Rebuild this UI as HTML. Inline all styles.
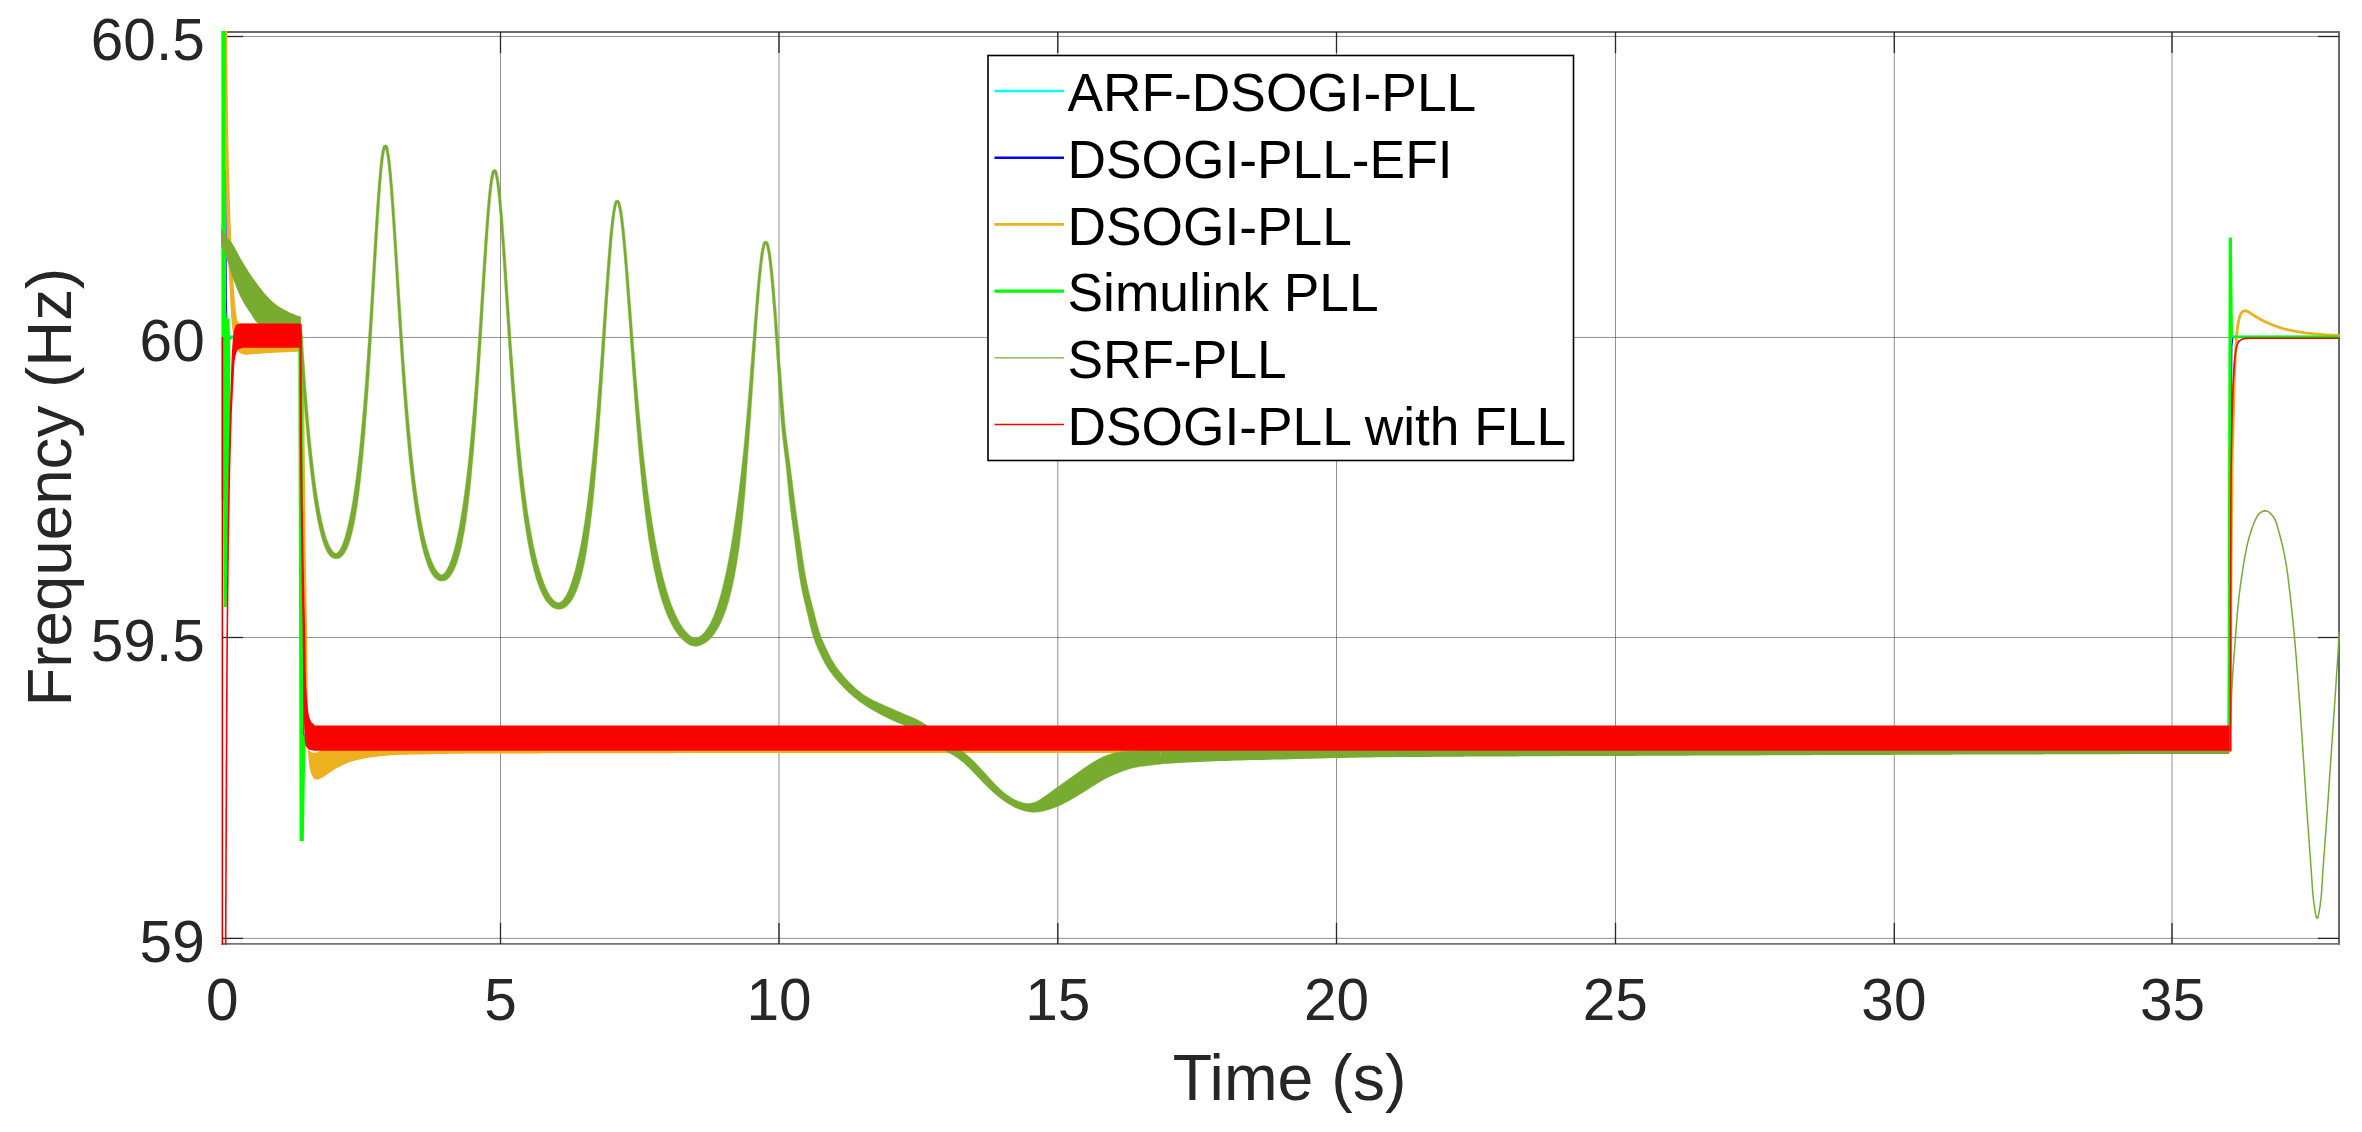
<!DOCTYPE html>
<html lang="en"><head><meta charset="utf-8"><title>Frequency (Hz) vs Time (s)</title>
<style>
html,body{margin:0;padding:0;background:#fff}
body{width:2362px;height:1132px;overflow:hidden}
svg{display:block}
text{font-family:"Liberation Sans",Arial,Helvetica,sans-serif}
.tk{font-size:58.5px;fill:#262626}
.lb{font-size:64.4px;fill:#262626}
.lg{font-size:53.3px;fill:#000}
</style></head><body>
<svg width="2362" height="1132" viewBox="0 0 2362 1132">
<defs><clipPath id="ax"><rect x="221.0" y="31.0" width="2119.0" height="914.0"/></clipPath></defs>
<rect width="2362" height="1132" fill="#fff"/>
<g stroke="#262626" stroke-opacity="0.5" stroke-width="1" fill="none"><line x1="500.5" y1="32.0" x2="500.5" y2="944.0"/><line x1="779" y1="32.0" x2="779" y2="944.0"/><line x1="1057.8" y1="32.0" x2="1057.8" y2="944.0"/><line x1="1336.5" y1="32.0" x2="1336.5" y2="944.0"/><line x1="1615.5" y1="32.0" x2="1615.5" y2="944.0"/><line x1="1894.3" y1="32.0" x2="1894.3" y2="944.0"/><line x1="2172" y1="32.0" x2="2172" y2="944.0"/><line x1="222.0" y1="938.4" x2="2339.0" y2="938.4"/><line x1="222.0" y1="637.5" x2="2339.0" y2="637.5"/><line x1="222.0" y1="337.45" x2="2339.0" y2="337.45"/><line x1="222.0" y1="36.5" x2="2339.0" y2="36.5"/></g>
<g fill="none" stroke="#6a6a6a"><path d="M221.7 32 H2340" stroke-width="2"/><path d="M2339 32 V944.8" stroke-width="2"/><path d="M221.7 943.9 H2340" stroke-width="1.8" stroke="#747474"/><path d="M222.4 31 V944.8" stroke-width="1.3"/></g>
<g stroke="#262626" stroke-width="1.3" fill="none"><line x1="500.5" y1="944.0" x2="500.5" y2="923.0"/><line x1="500.5" y1="32.0" x2="500.5" y2="53.0"/><line x1="779" y1="944.0" x2="779" y2="923.0"/><line x1="779" y1="32.0" x2="779" y2="53.0"/><line x1="1057.8" y1="944.0" x2="1057.8" y2="923.0"/><line x1="1057.8" y1="32.0" x2="1057.8" y2="53.0"/><line x1="1336.5" y1="944.0" x2="1336.5" y2="923.0"/><line x1="1336.5" y1="32.0" x2="1336.5" y2="53.0"/><line x1="1615.5" y1="944.0" x2="1615.5" y2="923.0"/><line x1="1615.5" y1="32.0" x2="1615.5" y2="53.0"/><line x1="1894.3" y1="944.0" x2="1894.3" y2="923.0"/><line x1="1894.3" y1="32.0" x2="1894.3" y2="53.0"/><line x1="2172" y1="944.0" x2="2172" y2="923.0"/><line x1="2172" y1="32.0" x2="2172" y2="53.0"/><line x1="222.0" y1="938.4" x2="243.0" y2="938.4"/><line x1="2339.0" y1="938.4" x2="2318.0" y2="938.4"/><line x1="222.0" y1="637.5" x2="243.0" y2="637.5"/><line x1="2339.0" y1="637.5" x2="2318.0" y2="637.5"/><line x1="222.0" y1="337.45" x2="243.0" y2="337.45"/><line x1="2339.0" y1="337.45" x2="2318.0" y2="337.45"/><line x1="222.0" y1="36.5" x2="243.0" y2="36.5"/><line x1="2339.0" y1="36.5" x2="2318.0" y2="36.5"/></g>
<g clip-path="url(#ax)">
<path d="M223 32 L224 330 L228 337 L301 337 L303 738 L2229 738 L2231 337 L2339 337" fill="none" stroke="#00ffff" stroke-width="2.5"/>
<path d="M225.9 170 L226.3 300 L227.8 350 L229.6 340 L232 337 L300 337 L300.7 420 L302.4 560 L303.4 735 L2229 738 L2230.9 500 L2231.9 346 L2233 337 L2339 337" fill="none" stroke="#0000ff" stroke-width="1" stroke-linejoin="round"/>
<path d="M227.2 20 L227.2 23.1 L227.2 26.1 L227.2 29.2 L227.2 32.3 L227.3 35.4 L227.3 38.4 L227.3 41.5 L227.3 44.6 L227.3 47.7 L227.3 50.7 L227.4 53.8 L227.4 56.9 L227.4 60 L227.4 63 L227.5 66.1 L227.5 69.2 L227.5 72.2 L227.6 75.3 L227.6 78.4 L227.6 81.5 L227.6 84.5 L227.7 87.6 L227.7 90.7 L227.7 93.8 L227.8 96.8 L227.8 99.9 L227.8 103 L227.9 106.1 L227.9 109.1 L227.9 112.2 L228 115.3 L228 118.3 L228.1 121.4 L228.1 124.5 L228.2 127.6 L228.2 130.6 L228.3 133.7 L228.3 136.8 L228.4 139.9 L228.4 142.9 L228.5 146 L228.6 149.1 L228.6 152.1 L228.7 155.2 L228.7 158.3 L228.8 161.4 L228.9 164.4 L228.9 167.5 L229 170.6 L229.1 173.7 L229.2 176.7 L229.2 179.8 L229.3 182.9 L229.4 185.9 L229.5 189 L229.6 192.1 L229.7 195.2 L229.8 198.2 L229.9 201.3 L230 204.4 L230.1 207.5 L230.2 210.5 L230.3 213.6 L230.4 216.7 L230.5 219.7 L230.6 222.8 L230.7 225.9 L230.9 229 L231 232 L231.1 235.1 L231.2 238.2 L231.4 241.2 L231.5 244.3 L231.6 247.4 L231.8 250.4 L231.9 253.5 L232.1 256.6 L232.2 259.7 L232.4 262.7 L232.5 265.8 L232.7 268.9 L232.9 271.9 L233 275 L233.2 278.1 L233.4 281.1 L233.6 284.2 L233.8 287.3 L234 290.3 L234.2 293.4 L234.5 296.5 L234.7 299.5 L235 302.6 L235.3 305.7 L235.6 308.7 L236 311.8 L236.4 315.2 L236.9 318.9 L237.7 321.7 L239.1 322.8 L242.3 323.3 L245.7 323.5 L248.7 323.5 L251.8 323.5 L254.8 323.5 L257.9 323.5 L261 323.5 L264 323.5 L267.1 323.5 L270.2 323.5 L273.2 323.5 L276.3 323.5 L279.4 323.5 L282.5 323.5 L285.5 323.5 L288.6 323.5 L291.7 323.5 L294.8 323.5 L297.9 323.5 L301 323.5 L301 351.6 L298.5 351.7 L296 351.8 L293.5 351.9 L291 352 L288.5 352.1 L286.1 352.2 L283.6 352.3 L281.1 352.4 L278.6 352.5 L276.1 352.7 L273.6 352.8 L271.1 352.9 L268.6 353.1 L266.2 353.2 L263.7 353.4 L261.2 353.6 L258.7 353.7 L256.2 353.9 L253.7 354.1 L251.2 354.3 L248.7 354.6 L246.3 354.7 L243.8 354.5 L241.4 353.7 L239.3 352.4 L237.6 350.4 L236.5 348.4 L235.6 346.1 L234.8 343.6 L234.2 341.1 L233.8 338.7 L233.3 336.2 L233 333.8 L232.6 331.3 L232.3 328.8 L232.1 326.3 L231.8 323.8 L231.6 321.3 L231.4 318.9 L231.2 316.4 L231.1 313.9 L230.9 311.4 L230.8 308.9 L230.6 306.4 L230.5 303.9 L230.4 301.5 L230.2 299 L230.1 296.5 L230 294 L229.9 291.5 L229.7 289 L229.6 286.5 L229.5 284 L229.3 281.5 L229.2 279.1 L229.1 276.6 L228.9 274.1 L228.8 271.6 L228.6 269.1 L228.5 266.6 L228.4 264.1 L228.2 261.6 L228.1 259.1 L228 256.7 L227.8 254.2 L227.7 251.7 L227.6 249.2 L227.5 246.7 L227.4 244.2 L227.3 241.7 L227.2 239.2 L227.1 236.7 L227 234.3 L226.9 231.8 L226.9 229.3 L226.8 226.8 L226.8 224.3 L226.7 221.8 L226.7 219.3 L226.6 216.8 L226.6 214.3 L226.5 211.8 L226.5 209.3 L226.5 206.9 L226.4 204.4 L226.4 201.9 L226.4 199.4 L226.3 196.9 L226.3 194.4 L226.3 191.9 L226.2 189.4 L226.2 186.9 L226.2 184.4 L226.1 181.9 L226.1 179.5 L226.1 177 L226.1 174.5 L226 172 L226 169.5 L226 167 L225.9 164.5 L225.9 162 L225.9 159.5 L225.9 157 L225.8 154.5 L225.8 152 L225.8 149.6 L225.7 147.1 L225.7 144.6 L225.7 142.1 L225.7 139.6 L225.6 137.1 L225.6 134.6 L225.6 132.1 L225.6 129.6 L225.6 127.1 L225.5 124.6 L225.5 122.1 L225.5 119.7 L225.5 117.2 L225.4 114.7 L225.4 112.2 L225.4 109.7 L225.4 107.2 L225.3 104.7 L225.3 102.2 L225.3 99.7 L225.3 97.2 L225.3 94.7 L225.2 92.3 L225.2 89.8 L225.2 87.3 L225.2 84.8 L225.1 82.3 L225.1 79.8 L225.1 77.3 L225.1 74.8 L225 72.3 L225 69.8 L225 67.3 L225 64.8 L225 62.4 L224.9 59.9 L224.9 57.4 L224.9 54.9 L224.9 52.4 L224.8 49.9 L224.8 47.4 L224.8 44.9 L224.8 42.4 L224.8 39.9 L224.7 37.4 L224.7 34.9 L224.7 32.5 L224.7 30 L224.7 27.5 L224.6 25 L224.6 22.5 L224.6 20 Z" fill="#edb120"/>
<path d="M302.9 368 L303.2 420 L304.6 560 L306 640 L306.6 700 L307.3 746" fill="none" stroke="#edb120" stroke-width="2.4" stroke-linejoin="round"/>
<path d="M306.2 740 L307.2 744.8 L307.8 749.7 L308.2 754.6 L308.6 759.5 L309.2 764.4 L310 769.4 L311.3 774.2 L313.7 778.5 L317.8 779.7 L322.5 777.6 L326.5 774.7 L330.5 771.9 L334.7 769.3 L339 766.9 L343.4 764.7 L347.9 762.8 L352.6 761.3 L357.4 760.1 L362.2 759 L367 758.1 L371.9 757.3 L376.7 756.7 L381.6 756.1 L386.5 755.7 L391.4 755.3 L396.3 755 L401.2 754.8 L406.1 754.7 L411.1 754.6 L416 754.4 L420.9 754.4 L425.8 754.3 L430.7 754.2 L435.6 754.1 L440.5 754 L445.5 753.9 L450.4 753.8 L455.3 753.8 L460.2 753.7 L465.1 753.6 L470 753.6 L474.9 753.5 L479.9 753.5 L484.8 753.5 L489.7 753.5 L494.6 753.5 L499.5 753.4 L504.4 753.4 L509.3 753.4 L514.3 753.4 L519.2 753.4 L524.1 753.4 L529 753.4 L533.9 753.4 L538.8 753.4 L543.7 753.3 L548.7 753.3 L553.6 753.3 L558.5 753.3 L563.4 753.3 L568.3 753.3 L573.2 753.3 L578.2 753.3 L583.1 753.3 L588 753.3 L592.9 753.3 L597.8 753.2 L602.7 753.2 L607.6 753.2 L612.6 753.2 L617.5 753.2 L622.4 753.2 L627.3 753.2 L632.2 753.2 L637.1 753.2 L642 753.2 L647 753.2 L651.9 753.2 L656.8 753.2 L661.7 753.2 L666.6 753.2 L671.5 753.2 L676.4 753.1 L681.4 753.1 L686.3 753.1 L691.2 753.1 L696.1 753.1 L701 753.1 L705.9 753.1 L710.8 753.1 L715.8 753.1 L720.7 753.1 L725.6 753.1 L730.5 753.1 L735.4 753.1 L740.3 753.1 L745.3 753.1 L750.2 753.1 L755.1 753.1 L760 753.1 L764.9 753.1 L769.8 753.1 L774.7 753.1 L779.7 753.1 L784.6 753.1 L789.5 753.1 L794.4 753.1 L799.3 753.1 L804.2 753.1 L809.1 753.1 L814.1 753 L819 753 L823.9 753 L828.8 753 L833.7 753 L838.6 753 L843.5 753 L848.5 753 L853.4 753 L858.3 753 L863.2 753 L868.1 753 L873 753 L878 753 L882.9 753 L887.8 753 L892.7 753 L897.6 753 L902.5 753 L907.4 753 L912.4 753 L917.3 753 L922.2 753 L927.1 753 L932 753 L936.9 753 L941.8 753 L946.8 753 L951.7 753 L956.6 753 L961.5 753 L966.4 753 L971.3 753 L976.2 753 L981.2 752.9 L986.1 752.9 L991 752.9 L995.9 752.9 L1000.8 752.9 L1005.7 752.9 L1010.6 752.9 L1015.6 752.9 L1020.5 752.9 L1025.4 752.9 L1030.3 752.9 L1035.2 752.9 L1040.1 752.9 L1045.1 752.9 L1050 752.9 L1054.9 752.9 L1059.8 752.9 L1064.7 752.9 L1069.6 752.9 L1074.5 752.9 L1079.5 752.9 L1084.4 752.9 L1089.3 752.9 L1094.2 752.9 L1099.1 752.9 L1104 752.9 L1108.9 752.9 L1113.9 752.9 L1118.8 752.9 L1123.7 752.9 L1128.6 752.9 L1133.5 752.9 L1138.4 752.9 L1143.3 752.9 L1148.3 752.9 L1153.2 752.8 L1158.1 752.8 L1163 752.8 L1167.9 752.8 L1172.8 752.8 L1177.7 752.8 L1182.7 752.8 L1187.6 752.8 L1192.5 752.8 L1197.4 752.8 L1202.3 752.8 L1207.2 752.8 L1212.2 752.8 L1217.1 752.8 L1222 752.8 L1226.9 752.8 L1231.8 752.8 L1236.7 752.8 L1241.6 752.8 L1246.6 752.8 L1251.5 752.8 L1256.4 752.8 L1261.3 752.8 L1266.2 752.8 L1271.1 752.8 L1276 752.8 L1281 752.8 L1285.9 752.8 L1290.8 752.8 L1295.7 752.8 L1300.6 752.8 L1305.5 752.8 L1310.4 752.8 L1315.4 752.8 L1320.3 752.8 L1325.2 752.8 L1330.1 752.8 L1335 752.8 L1339.9 752.7 L1344.8 752.7 L1349.8 752.7 L1354.7 752.7 L1359.6 752.7 L1364.5 752.7 L1369.4 752.7 L1374.3 752.7 L1379.3 752.7 L1384.2 752.7 L1389.1 752.7 L1394 752.7 L1398.9 752.7 L1403.8 752.7 L1408.7 752.7 L1413.7 752.7 L1418.6 752.7 L1423.5 752.7 L1428.4 752.7 L1433.3 752.7 L1438.2 752.7 L1443.1 752.7 L1448.1 752.7 L1453 752.7 L1457.9 752.7 L1462.8 752.7 L1467.7 752.7 L1472.6 752.7 L1477.5 752.7 L1482.5 752.7 L1487.4 752.7 L1492.3 752.7 L1497.2 752.7 L1502.1 752.7 L1507 752.7 L1512 752.7 L1516.9 752.7 L1521.8 752.7 L1526.7 752.7 L1531.6 752.7 L1536.5 752.7 L1541.4 752.7 L1546.4 752.7 L1551.3 752.7 L1556.2 752.6 L1561.1 752.6 L1566 752.6 L1570.9 752.6 L1575.8 752.6 L1580.8 752.6 L1585.7 752.6 L1590.6 752.6 L1595.5 752.6 L1600.4 752.6 L1605.3 752.6 L1610.2 752.6 L1615.2 752.6 L1620.1 752.6 L1625 752.6 L1629.9 752.6 L1634.8 752.6 L1639.7 752.6 L1644.6 752.6 L1649.6 752.6 L1654.5 752.6 L1659.4 752.6 L1664.3 752.6 L1669.2 752.6 L1674.1 752.6 L1679.1 752.6 L1684 752.6 L1688.9 752.6 L1693.8 752.6 L1698.7 752.6 L1703.6 752.6 L1708.5 752.6 L1713.5 752.6 L1718.4 752.6 L1723.3 752.6 L1728.2 752.6 L1733.1 752.6 L1738 752.6 L1742.9 752.6 L1747.9 752.6 L1752.8 752.6 L1757.7 752.6 L1762.6 752.6 L1767.5 752.6 L1772.4 752.6 L1777.3 752.6 L1782.3 752.6 L1787.2 752.6 L1792.1 752.6 L1797 752.6 L1801.9 752.6 L1806.8 752.6 L1811.7 752.6 L1816.7 752.6 L1821.6 752.6 L1826.5 752.6 L1831.4 752.6 L1836.3 752.6 L1841.2 752.6 L1846.2 752.6 L1851.1 752.6 L1856 752.5 L1860.9 752.5 L1865.8 752.5 L1870.7 752.5 L1875.6 752.5 L1880.6 752.5 L1885.5 752.5 L1890.4 752.5 L1895.3 752.5 L1900.2 752.5 L1905.1 752.5 L1910 752.5 L1915 752.5 L1919.9 752.5 L1924.8 752.5 L1929.7 752.5 L1934.6 752.5 L1939.5 752.5 L1944.4 752.5 L1949.4 752.5 L1954.3 752.5 L1959.2 752.5 L1964.1 752.5 L1969 752.5 L1973.9 752.5 L1978.8 752.5 L1983.8 752.5 L1988.7 752.5 L1993.6 752.5 L1998.5 752.5 L2003.4 752.5 L2008.3 752.5 L2013.3 752.5 L2018.2 752.5 L2023.1 752.5 L2028 752.5 L2032.9 752.5 L2037.8 752.5 L2042.7 752.5 L2047.7 752.5 L2052.6 752.5 L2057.5 752.5 L2062.4 752.5 L2067.3 752.5 L2072.2 752.5 L2077.1 752.5 L2082.1 752.5 L2087 752.5 L2091.9 752.5 L2096.8 752.5 L2101.7 752.5 L2106.6 752.5 L2111.5 752.5 L2116.5 752.5 L2121.4 752.5 L2126.3 752.5 L2131.2 752.5 L2136.1 752.5 L2141 752.5 L2145.9 752.5 L2150.9 752.5 L2155.8 752.5 L2160.7 752.5 L2165.6 752.5 L2170.5 752.5 L2175.4 752.5 L2180.4 752.5 L2185.3 752.5 L2190.2 752.5 L2195.1 752.5 L2200 752.5 L2204.9 752.5 L2209.8 752.5 L2214.8 752.5 L2219.7 752.5 L2224.6 752.5 L2229.5 752.5 L2229.5 745 L330 745 L322 749 L319 751.5 L316 752.8 L313 752.8 L310 751.5 L307 748 L306 740 Z" fill="#edb120"/>
<path d="M2230.3 752 L2230.3 749.2 L2230.3 746.5 L2230.3 743.7 L2230.3 741 L2230.3 738.2 L2230.3 735.5 L2230.3 732.7 L2230.3 729.9 L2230.4 727.2 L2230.4 724.4 L2230.4 721.7 L2230.4 718.9 L2230.4 716.1 L2230.4 713.4 L2230.4 710.6 L2230.4 707.9 L2230.4 705.1 L2230.4 702.4 L2230.4 699.6 L2230.4 696.8 L2230.5 694.1 L2230.5 691.3 L2230.5 688.6 L2230.5 685.8 L2230.5 683 L2230.5 680.3 L2230.5 677.5 L2230.5 674.8 L2230.5 672 L2230.6 669.3 L2230.6 666.5 L2230.6 663.7 L2230.6 661 L2230.6 658.2 L2230.6 655.5 L2230.6 652.7 L2230.6 649.9 L2230.7 647.2 L2230.7 644.4 L2230.7 641.7 L2230.7 638.9 L2230.7 636.2 L2230.7 633.4 L2230.7 630.6 L2230.8 627.9 L2230.8 625.1 L2230.8 622.4 L2230.8 619.6 L2230.8 616.8 L2230.8 614.1 L2230.8 611.3 L2230.9 608.6 L2230.9 605.8 L2230.9 603.1 L2230.9 600.3 L2230.9 597.5 L2230.9 594.8 L2230.9 592 L2231 589.3 L2231 586.5 L2231 583.8 L2231 581 L2231 578.2 L2231 575.5 L2231.1 572.7 L2231.1 570 L2231.1 567.2 L2231.1 564.4 L2231.1 561.7 L2231.2 558.9 L2231.2 556.2 L2231.2 553.4 L2231.2 550.7 L2231.2 547.9 L2231.3 545.1 L2231.3 542.4 L2231.3 539.6 L2231.3 536.9 L2231.4 534.1 L2231.4 531.3 L2231.4 528.6 L2231.4 525.8 L2231.5 523.1 L2231.5 520.3 L2231.5 517.6 L2231.5 514.8 L2231.6 512 L2231.6 509.3 L2231.6 506.5 L2231.7 503.8 L2231.7 501 L2231.7 498.3 L2231.8 495.5 L2231.8 492.7 L2231.8 490 L2231.9 487.2 L2231.9 484.5 L2231.9 481.7 L2232 478.9 L2232 476.2 L2232.1 473.4 L2232.1 470.7 L2232.2 467.9 L2232.2 465.2 L2232.3 462.4 L2232.3 459.6 L2232.4 456.9 L2232.4 454.1 L2232.5 451.4 L2232.5 448.6 L2232.6 445.9 L2232.7 443.1 L2232.7 440.3 L2232.8 437.6 L2232.9 434.8 L2232.9 432.1 L2233 429.3 L2233 426.6 L2233.1 423.8 L2233.2 421 L2233.2 418.3 L2233.3 415.5 L2233.4 412.8 L2233.5 410 L2233.5 407.2 L2233.6 404.5 L2233.7 401.7 L2233.8 399 L2233.8 396.2 L2233.9 393.5 L2234 390.7 L2234.1 387.9 L2234.2 385.2 L2234.3 382.4 L2234.4 379.7 L2234.5 376.9 L2234.6 374.2 L2234.7 371.4 L2234.8 368.7 L2234.9 365.9 L2235.1 363.1 L2235.2 360.4 L2235.3 357.6 L2235.4 354.9 L2235.6 352.1 L2235.7 349.4 L2235.9 346.6 L2236.1 343.8 L2236.3 341.1 L2236.5 338.3 L2236.7 335.6 L2237 332.9 L2237.2 330.1 L2237.6 327.3 L2237.9 324.6 L2238.4 321.8 L2239 319.1 L2239.6 316.5 L2240.7 313.8 L2242.3 311.8 L2244.9 310.7 L2247.5 311.4 L2249.9 312.8 L2252.2 314.3 L2254.5 315.8 L2256.9 317.2 L2259.3 318.6 L2261.7 319.9 L2264.2 321.2 L2266.7 322.4 L2269.2 323.5 L2271.7 324.6 L2274.3 325.6 L2276.9 326.5 L2279.5 327.4 L2282.1 328.3 L2284.8 329 L2287.5 329.7 L2290.2 330.2 L2292.9 330.8 L2295.6 331.3 L2298.3 331.8 L2301 332.2 L2303.8 332.7 L2306.5 333.1 L2309.2 333.4 L2312 333.7 L2314.7 334 L2317.4 334.2 L2320.2 334.4 L2322.9 334.6 L2325.7 334.8 L2328.5 334.9 L2331.2 335.1 L2334 335.2 L2336.7 335.3 L2339.5 335.4 L2342.2 335.5 L2345 335.6" fill="none" stroke="#edb120" stroke-width="2.8" stroke-linejoin="round"/>
<path d="M221.6 20 L225.8 20 L225.8 300 L226.4 318 L229.3 318.6 L230.2 345 L230.2 400 L229 470 L227.6 560 L226.7 607 L223.7 607 L223.2 500 L221.6 500 Z" fill="#00ff00"/>
<path d="M228 337 L300.3 337" fill="none" stroke="#00ff00" stroke-width="3"/>
<path d="M300.4 336 L301.7 841 L303.4 738 L320 738" fill="none" stroke="#00ff00" stroke-width="4.2" stroke-linejoin="miter" stroke-miterlimit="80"/>
<path d="M2200 738 L2229 738 L2230.3 237.5 L2231.4 337" fill="none" stroke="#00ff00" stroke-width="3.2" stroke-linejoin="miter" stroke-miterlimit="80"/>
<path d="M2230.5 336.6 L2345 336.6" fill="none" stroke="#00ff00" stroke-width="2.2"/>
<path d="M221 228 L221.7 229.4 L222.4 230.7 L223.3 232 L224.2 233.3 L225.1 234.5 L226.1 235.7 L227.1 236.9 L228.1 238.1 L229.1 239.3 L230.1 240.6 L231 241.8 L231.9 243 L232.8 244.3 L233.6 245.6 L234.4 246.9 L235.1 248.3 L235.9 249.7 L236.6 251 L237.4 252.4 L238.1 253.8 L238.8 255.1 L239.5 256.5 L240.3 257.9 L241.1 259.2 L241.8 260.6 L242.6 261.9 L243.4 263.2 L244.2 264.6 L245 265.9 L245.8 267.2 L246.6 268.5 L247.5 269.8 L248.3 271.2 L249.1 272.5 L250 273.7 L250.9 275 L251.7 276.3 L252.6 277.6 L253.5 278.9 L254.4 280.1 L255.3 281.4 L256.2 282.6 L257.1 283.9 L258.1 285.1 L259 286.4 L260 287.6 L260.9 288.8 L261.9 290 L262.8 291.3 L263.8 292.5 L264.8 293.7 L265.8 294.8 L266.9 296 L267.9 297.1 L269 298.2 L270.1 299.3 L271.2 300.4 L272.4 301.5 L273.5 302.5 L274.7 303.5 L275.9 304.4 L277.2 305.4 L278.4 306.2 L279.7 307.1 L281.1 307.9 L282.4 308.6 L283.8 309.4 L285.2 310.1 L286.5 310.8 L287.9 311.5 L289.3 312.2 L290.7 312.9 L292.1 313.5 L293.6 314.1 L295 314.7 L296.5 315.2 L297.9 315.7 L299.4 316.2 L300.9 316.6 L300.9 331 L299.2 331 L297.5 331 L295.8 330.9 L294.1 330.8 L292.4 330.7 L290.7 330.6 L289.1 330.5 L287.4 330.4 L285.8 330.2 L284.1 330 L282.5 329.9 L280.9 329.7 L279.3 329.5 L277.7 329.2 L276.1 329 L274.5 328.7 L272.9 328.5 L271.3 328.2 L269.7 328 L268.1 327.6 L266.5 327.2 L264.9 326.6 L263.2 326 L261.7 325.3 L260.2 324.5 L258.8 323.7 L257.5 322.9 L256.4 321.9 L255.3 320.8 L254.3 319.5 L253.4 318 L252.5 316.6 L251.6 315.1 L250.7 313.6 L249.8 312.2 L248.9 310.9 L247.9 309.5 L247 308.1 L246.1 306.7 L245.2 305.4 L244.3 303.9 L243.5 302.5 L242.7 301.1 L241.9 299.7 L241.2 298.2 L240.4 296.7 L239.7 295.3 L239.1 293.8 L238.4 292.3 L237.8 290.7 L237.1 289.2 L236.5 287.7 L235.9 286.1 L235.3 284.6 L234.7 283 L234.1 281.5 L233.5 279.9 L233 278.4 L232.4 276.9 L231.8 275.3 L231.3 273.7 L230.8 272.2 L230.3 270.6 L229.8 269 L229.3 267.4 L228.9 265.8 L228.4 264.2 L227.9 262.7 L227.4 261.1 L226.9 259.5 L226.4 258 L225.9 256.4 L225.3 254.9 L224.7 253.3 L224.1 251.8 L223.4 250.3 L222.6 248.9 L221.8 247.4 L221 246 Z" fill="#77ac30"/>
<path d="M298.9 325.2 L299 326.6 L299.1 327.9 L299.2 329.3 L299.2 330.6 L299.3 332 L299.4 333.3 L299.5 334.7 L299.6 336 L299.7 337.4 L299.8 338.7 L299.8 340.1 L299.9 341.4 L300 342.8 L300.1 344.2 L300.2 345.5 L300.3 346.9 L300.4 348.2 L300.4 349.6 L300.5 350.9 L300.6 352.3 L300.7 353.6 L300.8 355 L300.9 356.3 L301 357.7 L301.1 359 L301.1 360.4 L301.2 361.7 L301.3 363.1 L301.4 364.5 L301.5 365.8 L301.6 367.2 L301.7 368.5 L301.8 369.9 L301.9 371.2 L302 372.6 L302.1 373.9 L302.1 375.3 L302.2 376.6 L302.3 378 L302.4 379.3 L302.5 380.7 L302.6 382 L302.7 383.4 L302.8 384.8 L302.9 386.1 L303 387.5 L303.1 388.8 L303.2 390.2 L303.3 391.5 L303.4 392.9 L303.5 394.2 L303.6 395.6 L303.7 396.9 L303.8 398.3 L303.9 399.6 L304 401 L304.1 402.3 L304.2 403.7 L304.3 405 L304.4 406.4 L304.5 407.7 L304.7 409.1 L304.8 410.5 L304.9 411.8 L305 413.2 L305.1 414.5 L305.2 415.9 L305.3 417.2 L305.4 418.6 L305.5 419.9 L305.6 421.3 L305.8 422.6 L305.9 424 L306 425.3 L306.1 426.7 L306.2 428 L306.3 429.4 L306.4 430.7 L306.6 432.1 L306.7 433.4 L306.8 434.8 L306.9 436.1 L307 437.5 L307.2 438.8 L307.3 440.2 L307.4 441.6 L307.5 442.9 L307.7 444.3 L307.8 445.6 L307.9 447 L308.1 448.3 L308.2 449.7 L308.3 451 L308.4 452.4 L308.6 453.7 L308.7 455.1 L308.9 456.4 L309 457.8 L309.1 459.1 L309.3 460.5 L309.4 461.8 L309.6 463.2 L309.7 464.5 L309.8 465.9 L310 467.2 L310.1 468.6 L310.3 469.9 L310.4 471.3 L310.6 472.6 L310.8 474 L310.9 475.3 L311.1 476.7 L311.2 478 L311.4 479.4 L311.6 480.7 L311.7 482.1 L311.9 483.4 L312.1 484.8 L312.2 486.1 L312.4 487.4 L312.6 488.8 L312.8 490.1 L312.9 491.5 L313.1 492.8 L313.3 494.2 L313.5 495.5 L313.7 496.9 L313.9 498.2 L314.1 499.6 L314.3 500.9 L314.5 502.3 L314.7 503.6 L314.9 505 L315.1 506.3 L315.3 507.6 L315.6 509 L315.8 510.3 L316 511.7 L316.2 513 L316.5 514.4 L316.7 515.7 L317 517 L317.2 518.4 L317.5 519.7 L317.7 521.1 L318 522.4 L318.3 523.7 L318.6 525.1 L318.9 526.4 L319.1 527.7 L319.5 529.1 L319.8 530.4 L320.1 531.7 L320.4 533.1 L320.8 534.4 L321.1 535.7 L321.5 537.1 L321.9 538.4 L322.3 539.7 L322.7 541 L323.1 542.4 L323.5 543.7 L324 545 L324.5 546.3 L325 547.6 L325.6 548.9 L326.2 550.2 L326.9 551.6 L327.6 552.8 L328.5 554.1 L329.4 555.4 L330.7 556.6 L332.2 557.7 L334.1 558.5 L336 558.8 L338.2 558.5 L340.2 557.7 L341.7 556.6 L342.9 555.4 L343.9 554.1 L344.8 552.8 L345.5 551.5 L346.2 550.2 L346.9 548.9 L347.5 547.6 L348 546.3 L348.5 545 L349 543.6 L349.4 542.3 L349.9 541 L350.3 539.6 L350.7 538.3 L351 537 L351.4 535.6 L351.8 534.3 L352.1 533 L352.4 531.6 L352.7 530.3 L353 528.9 L353.3 527.6 L353.6 526.3 L353.9 524.9 L354.2 523.6 L354.4 522.2 L354.7 520.9 L354.9 519.5 L355.2 518.2 L355.4 516.9 L355.7 515.5 L355.9 514.2 L356.1 512.8 L356.3 511.5 L356.5 510.1 L356.8 508.8 L357 507.4 L357.2 506.1 L357.4 504.7 L357.6 503.4 L357.7 502 L357.9 500.7 L358.1 499.3 L358.3 498 L358.5 496.6 L358.7 495.3 L358.8 493.9 L359 492.6 L359.2 491.2 L359.3 489.9 L359.5 488.5 L359.7 487.2 L359.8 485.8 L360 484.5 L360.1 483.1 L360.3 481.8 L360.5 480.4 L360.6 479.1 L360.7 477.7 L360.9 476.4 L361 475 L361.2 473.7 L361.3 472.3 L361.5 471 L361.6 469.6 L361.7 468.3 L361.9 466.9 L362 465.6 L362.1 464.2 L362.3 462.9 L362.4 461.5 L362.5 460.2 L362.7 458.8 L362.8 457.5 L362.9 456.1 L363.1 454.7 L363.2 453.4 L363.3 452 L363.4 450.7 L363.6 449.3 L363.7 448 L363.8 446.6 L363.9 445.3 L364 443.9 L364.2 442.6 L364.3 441.2 L364.4 439.9 L364.5 438.5 L364.6 437.2 L364.7 435.8 L364.9 434.5 L365 433.1 L365.1 431.8 L365.2 430.4 L365.3 429.1 L365.4 427.7 L365.5 426.3 L365.6 425 L365.7 423.6 L365.8 422.3 L365.9 420.9 L366 419.6 L366.1 418.2 L366.2 416.9 L366.3 415.5 L366.4 414.2 L366.5 412.8 L366.6 411.5 L366.7 410.1 L366.8 408.8 L366.9 407.4 L367 406 L367.1 404.7 L367.2 403.3 L367.3 402 L367.4 400.6 L367.5 399.3 L367.6 397.9 L367.7 396.6 L367.8 395.2 L367.9 393.9 L368 392.5 L368.1 391.2 L368.2 389.8 L368.3 388.5 L368.4 387.1 L368.4 385.7 L368.5 384.4 L368.6 383 L368.7 381.7 L368.8 380.3 L368.9 379 L369 377.6 L369.1 376.3 L369.2 374.9 L369.3 373.6 L369.3 372.2 L369.4 370.9 L369.5 369.5 L369.6 368.2 L369.7 366.8 L369.8 365.4 L369.9 364.1 L369.9 362.7 L370 361.4 L370.1 360 L370.2 358.7 L370.3 357.3 L370.4 356 L370.4 354.6 L370.5 353.3 L370.6 351.9 L370.7 350.6 L370.8 349.2 L370.9 347.8 L370.9 346.5 L371 345.1 L371.1 343.8 L371.2 342.4 L371.3 341.1 L371.4 339.7 L371.4 338.4 L371.5 337 L371.6 335.7 L371.7 334.3 L371.8 333 L371.8 331.6 L371.9 330.2 L372 328.9 L372.1 327.5 L372.1 326.2 L372.2 324.8 L372.3 323.5 L372.4 322.1 L372.5 320.8 L372.5 319.4 L372.6 318.1 L372.7 316.7 L372.8 315.4 L372.9 314 L372.9 312.6 L373 311.3 L373.1 309.9 L373.2 308.6 L373.2 307.2 L373.3 305.9 L373.4 304.5 L373.5 303.2 L373.6 301.8 L373.6 300.5 L373.7 299.1 L373.8 297.8 L373.9 296.4 L374 295 L374 293.7 L374.1 292.3 L374.2 291 L374.3 289.6 L374.4 288.3 L374.4 286.9 L374.5 285.6 L374.6 284.2 L374.7 282.9 L374.7 281.5 L374.8 280.2 L374.9 278.8 L375 277.4 L375.1 276.1 L375.1 274.7 L375.2 273.4 L375.3 272 L375.4 270.7 L375.5 269.3 L375.5 268 L375.6 266.6 L375.7 265.3 L375.8 263.9 L375.8 262.6 L375.9 261.2 L376 259.8 L376.1 258.5 L376.2 257.1 L376.2 255.8 L376.3 254.4 L376.4 253.1 L376.5 251.7 L376.6 250.4 L376.6 249 L376.7 247.7 L376.8 246.3 L376.9 245 L377 243.6 L377 242.3 L377.1 240.9 L377.2 239.5 L377.3 238.2 L377.4 236.8 L377.5 235.5 L377.5 234.1 L377.6 232.8 L377.7 231.4 L377.8 230.1 L377.9 228.7 L378 227.4 L378 226 L378.1 224.7 L378.2 223.3 L378.3 222 L378.4 220.6 L378.5 219.2 L378.5 217.9 L378.6 216.5 L378.7 215.2 L378.8 213.8 L378.9 212.5 L379 211.1 L379.1 209.8 L379.2 208.4 L379.2 207.1 L379.3 205.7 L379.4 204.4 L379.5 203 L379.6 201.7 L379.7 200.3 L379.8 199 L379.9 197.6 L380 196.3 L380.1 194.9 L380.2 193.6 L380.3 192.2 L380.4 190.9 L380.5 189.5 L380.6 188.2 L380.7 186.8 L380.8 185.5 L380.9 184.1 L381 182.8 L381.1 181.4 L381.2 180 L381.3 178.7 L381.5 177.3 L381.6 176 L381.7 174.6 L381.8 173.3 L381.9 171.9 L382.1 170.6 L382.2 169.3 L382.3 167.9 L382.5 166.6 L382.6 165.3 L382.8 163.9 L382.9 162.6 L383.1 161.2 L383.2 159.9 L383.4 158.5 L383.6 157.1 L383.7 155.8 L383.9 154.4 L384.2 153.2 L384.4 152 L384.7 150.8 L385 149.5 L385.3 147.9 L385.6 146.9 L384.9 147.1 L385.4 147.6 L385.6 148.5 L385.8 149.9 L386 151.3 L386.3 152.6 L386.6 154 L386.8 155.2 L387 156.5 L387.2 157.8 L387.4 159.2 L387.5 160.5 L387.7 161.9 L387.8 163.2 L388 164.6 L388.1 165.9 L388.3 167.3 L388.4 168.6 L388.5 170 L388.7 171.3 L388.8 172.6 L388.9 174 L389.1 175.3 L389.2 176.7 L389.3 178 L389.4 179.4 L389.5 180.7 L389.6 182.1 L389.8 183.4 L389.9 184.8 L390 186.1 L390.1 187.5 L390.2 188.8 L390.3 190.2 L390.4 191.5 L390.5 192.9 L390.6 194.2 L390.7 195.6 L390.8 196.9 L390.9 198.3 L391 199.6 L391.1 201 L391.2 202.3 L391.3 203.7 L391.4 205.1 L391.5 206.4 L391.6 207.8 L391.7 209.1 L391.8 210.5 L391.9 211.8 L392 213.2 L392 214.5 L392.1 215.9 L392.2 217.2 L392.3 218.6 L392.4 219.9 L392.5 221.3 L392.6 222.6 L392.7 224 L392.8 225.3 L392.9 226.7 L392.9 228 L393 229.4 L393.1 230.8 L393.2 232.1 L393.3 233.5 L393.4 234.8 L393.5 236.2 L393.5 237.5 L393.6 238.9 L393.7 240.2 L393.8 241.6 L393.9 242.9 L394 244.3 L394 245.6 L394.1 247 L394.2 248.3 L394.3 249.7 L394.4 251 L394.5 252.4 L394.5 253.8 L394.6 255.1 L394.7 256.5 L394.8 257.8 L394.9 259.2 L395 260.5 L395 261.9 L395.1 263.2 L395.2 264.6 L395.3 265.9 L395.4 267.3 L395.4 268.6 L395.5 270 L395.6 271.3 L395.7 272.7 L395.8 274.1 L395.9 275.4 L395.9 276.8 L396 278.1 L396.1 279.5 L396.2 280.8 L396.3 282.2 L396.3 283.5 L396.4 284.9 L396.5 286.2 L396.6 287.6 L396.7 288.9 L396.8 290.3 L396.8 291.7 L396.9 293 L397 294.4 L397.1 295.7 L397.2 297.1 L397.3 298.4 L397.3 299.8 L397.4 301.1 L397.5 302.5 L397.6 303.8 L397.7 305.2 L397.8 306.5 L397.8 307.9 L397.9 309.2 L398 310.6 L398.1 312 L398.2 313.3 L398.3 314.7 L398.3 316 L398.4 317.4 L398.5 318.7 L398.6 320.1 L398.7 321.4 L398.8 322.8 L398.8 324.1 L398.9 325.5 L399 326.8 L399.1 328.2 L399.2 329.6 L399.3 330.9 L399.4 332.3 L399.4 333.6 L399.5 335 L399.6 336.3 L399.7 337.7 L399.8 339 L399.9 340.4 L400 341.7 L400.1 343.1 L400.1 344.4 L400.2 345.8 L400.3 347.1 L400.4 348.5 L400.5 349.9 L400.6 351.2 L400.7 352.6 L400.8 353.9 L400.9 355.3 L400.9 356.6 L401 358 L401.1 359.3 L401.2 360.7 L401.3 362 L401.4 363.4 L401.5 364.7 L401.6 366.1 L401.7 367.4 L401.8 368.8 L401.9 370.2 L401.9 371.5 L402 372.9 L402.1 374.2 L402.2 375.6 L402.3 376.9 L402.4 378.3 L402.5 379.6 L402.6 381 L402.7 382.3 L402.8 383.7 L402.9 385 L403 386.4 L403.1 387.7 L403.2 389.1 L403.3 390.4 L403.4 391.8 L403.5 393.2 L403.6 394.5 L403.7 395.9 L403.8 397.2 L403.9 398.6 L404 399.9 L404.1 401.3 L404.2 402.6 L404.3 404 L404.4 405.3 L404.5 406.7 L404.7 408 L404.8 409.4 L404.9 410.7 L405 412.1 L405.1 413.4 L405.2 414.8 L405.3 416.1 L405.4 417.5 L405.5 418.9 L405.6 420.2 L405.7 421.6 L405.9 422.9 L406 424.3 L406.1 425.6 L406.2 427 L406.3 428.3 L406.4 429.7 L406.5 431 L406.7 432.4 L406.8 433.7 L406.9 435.1 L407 436.4 L407.1 437.8 L407.3 439.1 L407.4 440.5 L407.5 441.8 L407.6 443.2 L407.8 444.5 L407.9 445.9 L408 447.2 L408.1 448.6 L408.3 449.9 L408.4 451.3 L408.5 452.6 L408.7 454 L408.8 455.3 L408.9 456.7 L409.1 458 L409.2 459.4 L409.3 460.7 L409.5 462.1 L409.6 463.5 L409.7 464.8 L409.9 466.2 L410 467.5 L410.2 468.9 L410.3 470.2 L410.5 471.6 L410.6 472.9 L410.8 474.3 L410.9 475.6 L411.1 476.9 L411.2 478.3 L411.4 479.6 L411.5 481 L411.7 482.3 L411.8 483.7 L412 485 L412.2 486.4 L412.3 487.7 L412.5 489.1 L412.7 490.4 L412.8 491.8 L413 493.1 L413.2 494.5 L413.3 495.8 L413.5 497.2 L413.7 498.5 L413.9 499.9 L414.1 501.2 L414.2 502.6 L414.4 503.9 L414.6 505.3 L414.8 506.6 L415 507.9 L415.2 509.3 L415.4 510.6 L415.6 512 L415.8 513.3 L416 514.7 L416.2 516 L416.4 517.4 L416.6 518.7 L416.9 520.1 L417.1 521.4 L417.3 522.7 L417.5 524.1 L417.8 525.4 L418 526.8 L418.3 528.1 L418.5 529.4 L418.7 530.8 L419 532.1 L419.3 533.5 L419.5 534.8 L419.8 536.1 L420 537.5 L420.3 538.8 L420.6 540.2 L420.9 541.5 L421.2 542.8 L421.5 544.2 L421.8 545.5 L422.1 546.8 L422.4 548.2 L422.8 549.5 L423.1 550.8 L423.5 552.2 L423.8 553.5 L424.2 554.8 L424.6 556.1 L425 557.5 L425.4 558.8 L425.8 560.1 L426.2 561.4 L426.7 562.7 L427.2 564 L427.7 565.4 L428.2 566.7 L428.7 568 L429.3 569.3 L429.9 570.6 L430.6 571.9 L431.3 573.1 L432.1 574.4 L433 575.7 L434 576.9 L435.1 578.1 L436.4 579.2 L438.1 580.2 L440 580.9 L442.2 581.1 L444.4 580.7 L446.3 579.9 L447.8 578.8 L449.1 577.6 L450.1 576.4 L451.1 575.1 L451.9 573.9 L452.7 572.6 L453.4 571.3 L454 570 L454.6 568.6 L455.2 567.3 L455.7 566 L456.2 564.7 L456.7 563.4 L457.2 562.1 L457.6 560.7 L458 559.4 L458.4 558.1 L458.8 556.7 L459.2 555.4 L459.6 554.1 L459.9 552.7 L460.2 551.4 L460.6 550 L460.9 548.7 L461.2 547.4 L461.5 546 L461.8 544.7 L462.1 543.3 L462.4 542 L462.6 540.7 L462.9 539.3 L463.1 538 L463.4 536.6 L463.6 535.3 L463.9 533.9 L464.1 532.6 L464.4 531.2 L464.6 529.9 L464.8 528.6 L465 527.2 L465.2 525.9 L465.4 524.5 L465.7 523.2 L465.9 521.8 L466.1 520.5 L466.3 519.1 L466.5 517.8 L466.6 516.4 L466.8 515.1 L467 513.7 L467.2 512.4 L467.4 511 L467.6 509.7 L467.7 508.3 L467.9 507 L468.1 505.6 L468.3 504.3 L468.4 502.9 L468.6 501.6 L468.7 500.2 L468.9 498.9 L469.1 497.5 L469.2 496.2 L469.4 494.8 L469.5 493.5 L469.7 492.1 L469.8 490.8 L470 489.4 L470.1 488.1 L470.3 486.7 L470.4 485.4 L470.5 484 L470.7 482.7 L470.8 481.3 L470.9 480 L471.1 478.6 L471.2 477.3 L471.3 475.9 L471.5 474.5 L471.6 473.2 L471.7 471.8 L471.8 470.5 L472 469.1 L472.1 467.8 L472.2 466.4 L472.3 465.1 L472.4 463.7 L472.6 462.4 L472.7 461 L472.8 459.7 L472.9 458.3 L473 457 L473.2 455.6 L473.3 454.3 L473.4 452.9 L473.5 451.6 L473.6 450.2 L473.7 448.8 L473.9 447.5 L474 446.1 L474.1 444.8 L474.2 443.4 L474.3 442.1 L474.4 440.7 L474.5 439.4 L474.6 438 L474.7 436.7 L474.9 435.3 L475 434 L475.1 432.6 L475.2 431.3 L475.3 429.9 L475.4 428.6 L475.5 427.2 L475.6 425.9 L475.7 424.5 L475.8 423.1 L475.9 421.8 L476 420.4 L476.1 419.1 L476.2 417.7 L476.3 416.4 L476.4 415 L476.5 413.7 L476.6 412.3 L476.7 411 L476.8 409.6 L476.9 408.3 L477 406.9 L477 405.6 L477.1 404.2 L477.2 402.8 L477.3 401.5 L477.4 400.1 L477.5 398.8 L477.6 397.4 L477.7 396.1 L477.8 394.7 L477.9 393.4 L478 392 L478.1 390.7 L478.1 389.3 L478.2 388 L478.3 386.6 L478.4 385.3 L478.5 383.9 L478.6 382.5 L478.7 381.2 L478.8 379.8 L478.8 378.5 L478.9 377.1 L479 375.8 L479.1 374.4 L479.2 373.1 L479.3 371.7 L479.4 370.4 L479.5 369 L479.5 367.7 L479.6 366.3 L479.7 364.9 L479.8 363.6 L479.9 362.2 L480 360.9 L480.1 359.5 L480.1 358.2 L480.2 356.8 L480.3 355.5 L480.4 354.1 L480.5 352.8 L480.6 351.4 L480.7 350.1 L480.7 348.7 L480.8 347.4 L480.9 346 L481 344.6 L481.1 343.3 L481.2 341.9 L481.2 340.6 L481.3 339.2 L481.4 337.9 L481.5 336.5 L481.6 335.2 L481.7 333.8 L481.7 332.5 L481.8 331.1 L481.9 329.8 L482 328.4 L482.1 327 L482.2 325.7 L482.2 324.3 L482.3 323 L482.4 321.6 L482.5 320.3 L482.6 318.9 L482.7 317.6 L482.7 316.2 L482.8 314.9 L482.9 313.5 L483 312.2 L483.1 310.8 L483.2 309.5 L483.2 308.1 L483.3 306.7 L483.4 305.4 L483.5 304 L483.6 302.7 L483.6 301.3 L483.7 300 L483.8 298.6 L483.9 297.3 L484 295.9 L484.1 294.6 L484.1 293.2 L484.2 291.9 L484.3 290.5 L484.4 289.1 L484.5 287.8 L484.6 286.4 L484.6 285.1 L484.7 283.7 L484.8 282.4 L484.9 281 L485 279.7 L485.1 278.3 L485.1 277 L485.2 275.6 L485.3 274.3 L485.4 272.9 L485.5 271.6 L485.6 270.2 L485.7 268.8 L485.7 267.5 L485.8 266.1 L485.9 264.8 L486 263.4 L486.1 262.1 L486.2 260.7 L486.3 259.4 L486.3 258 L486.4 256.7 L486.5 255.3 L486.6 254 L486.7 252.6 L486.8 251.3 L486.9 249.9 L487 248.6 L487 247.2 L487.1 245.8 L487.2 244.5 L487.3 243.1 L487.4 241.8 L487.5 240.4 L487.6 239.1 L487.7 237.7 L487.8 236.4 L487.9 235 L488 233.7 L488 232.3 L488.1 231 L488.2 229.6 L488.3 228.3 L488.4 226.9 L488.5 225.6 L488.6 224.2 L488.7 222.9 L488.8 221.5 L488.9 220.2 L489 218.8 L489.1 217.5 L489.2 216.1 L489.3 214.8 L489.4 213.4 L489.6 212.1 L489.7 210.7 L489.8 209.4 L489.9 208 L490 206.7 L490.1 205.3 L490.2 204 L490.3 202.6 L490.5 201.3 L490.6 199.9 L490.7 198.6 L490.8 197.2 L491 195.9 L491.1 194.5 L491.2 193.2 L491.4 191.8 L491.5 190.5 L491.7 189.2 L491.9 187.8 L492 186.5 L492.2 185.1 L492.3 183.8 L492.5 182.4 L492.7 181.1 L492.9 179.7 L493.1 178.5 L493.4 177.2 L493.7 176 L494 174.7 L494.3 173.2 L494.5 171.9 L494.5 171.9 L494.4 171.8 L494.6 172.6 L494.9 174.1 L495.2 175.5 L495.5 176.7 L495.8 178 L496 179.2 L496.3 180.5 L496.4 181.8 L496.6 183.2 L496.8 184.6 L497 185.9 L497.1 187.3 L497.3 188.6 L497.4 189.9 L497.6 191.3 L497.7 192.6 L497.9 194 L498 195.3 L498.2 196.6 L498.3 198 L498.4 199.3 L498.6 200.7 L498.7 202 L498.8 203.4 L498.9 204.7 L499.1 206.1 L499.2 207.4 L499.3 208.8 L499.4 210.1 L499.5 211.5 L499.6 212.8 L499.8 214.2 L499.9 215.5 L500 216.9 L500.1 218.2 L500.2 219.6 L500.3 220.9 L500.4 222.3 L500.5 223.6 L500.6 225 L500.7 226.3 L500.8 227.7 L500.9 229.1 L501 230.4 L501.1 231.8 L501.2 233.1 L501.3 234.5 L501.4 235.8 L501.5 237.2 L501.6 238.5 L501.7 239.9 L501.8 241.2 L501.9 242.6 L502 243.9 L502.1 245.3 L502.2 246.6 L502.3 248 L502.4 249.3 L502.4 250.7 L502.5 252 L502.6 253.4 L502.7 254.7 L502.8 256.1 L502.9 257.4 L503 258.8 L503.1 260.2 L503.2 261.5 L503.3 262.9 L503.3 264.2 L503.4 265.6 L503.5 266.9 L503.6 268.3 L503.7 269.6 L503.8 271 L503.9 272.3 L504 273.7 L504.1 275 L504.1 276.4 L504.2 277.7 L504.3 279.1 L504.4 280.4 L504.5 281.8 L504.6 283.2 L504.7 284.5 L504.8 285.9 L504.8 287.2 L504.9 288.6 L505 289.9 L505.1 291.3 L505.2 292.6 L505.3 294 L505.4 295.3 L505.5 296.7 L505.6 298 L505.6 299.4 L505.7 300.7 L505.8 302.1 L505.9 303.5 L506 304.8 L506.1 306.2 L506.2 307.5 L506.3 308.9 L506.3 310.2 L506.4 311.6 L506.5 312.9 L506.6 314.3 L506.7 315.6 L506.8 317 L506.9 318.3 L507 319.7 L507 321 L507.1 322.4 L507.2 323.7 L507.3 325.1 L507.4 326.5 L507.5 327.8 L507.6 329.2 L507.7 330.5 L507.7 331.9 L507.8 333.2 L507.9 334.6 L508 335.9 L508.1 337.3 L508.2 338.6 L508.3 340 L508.4 341.3 L508.5 342.7 L508.5 344 L508.6 345.4 L508.7 346.8 L508.8 348.1 L508.9 349.5 L509 350.8 L509.1 352.2 L509.2 353.5 L509.3 354.9 L509.4 356.2 L509.4 357.6 L509.5 358.9 L509.6 360.3 L509.7 361.6 L509.8 363 L509.9 364.3 L510 365.7 L510.1 367.1 L510.2 368.4 L510.3 369.8 L510.4 371.1 L510.4 372.5 L510.5 373.8 L510.6 375.2 L510.7 376.5 L510.8 377.9 L510.9 379.2 L511 380.6 L511.1 381.9 L511.2 383.3 L511.3 384.6 L511.4 386 L511.5 387.4 L511.6 388.7 L511.7 390.1 L511.8 391.4 L511.9 392.8 L512 394.1 L512.1 395.5 L512.2 396.8 L512.3 398.2 L512.4 399.5 L512.5 400.9 L512.6 402.2 L512.7 403.6 L512.8 404.9 L512.9 406.3 L513 407.6 L513.1 409 L513.2 410.3 L513.3 411.7 L513.4 413.1 L513.5 414.4 L513.6 415.8 L513.7 417.1 L513.8 418.5 L513.9 419.8 L514 421.2 L514.1 422.5 L514.3 423.9 L514.4 425.2 L514.5 426.6 L514.6 427.9 L514.7 429.3 L514.8 430.6 L514.9 432 L515 433.3 L515.1 434.7 L515.3 436 L515.4 437.4 L515.5 438.7 L515.6 440.1 L515.7 441.5 L515.8 442.8 L516 444.2 L516.1 445.5 L516.2 446.9 L516.3 448.2 L516.4 449.6 L516.6 450.9 L516.7 452.3 L516.8 453.6 L516.9 455 L517.1 456.3 L517.2 457.7 L517.3 459 L517.5 460.4 L517.6 461.7 L517.7 463.1 L517.8 464.4 L518 465.8 L518.1 467.1 L518.2 468.5 L518.4 469.8 L518.5 471.2 L518.7 472.5 L518.8 473.9 L518.9 475.2 L519.1 476.6 L519.2 477.9 L519.4 479.3 L519.5 480.6 L519.7 482 L519.8 483.3 L519.9 484.7 L520.1 486 L520.2 487.4 L520.4 488.7 L520.6 490.1 L520.7 491.4 L520.9 492.8 L521 494.1 L521.2 495.5 L521.3 496.8 L521.5 498.2 L521.7 499.5 L521.8 500.9 L522 502.2 L522.2 503.6 L522.3 504.9 L522.5 506.3 L522.7 507.6 L522.8 509 L523 510.3 L523.2 511.7 L523.4 513 L523.6 514.4 L523.7 515.7 L523.9 517 L524.1 518.4 L524.3 519.7 L524.5 521.1 L524.7 522.4 L524.9 523.8 L525.1 525.1 L525.3 526.5 L525.5 527.8 L525.7 529.2 L525.9 530.5 L526.1 531.9 L526.3 533.2 L526.5 534.5 L526.8 535.9 L527 537.2 L527.2 538.6 L527.4 539.9 L527.7 541.3 L527.9 542.6 L528.2 543.9 L528.4 545.3 L528.6 546.6 L528.9 548 L529.2 549.3 L529.4 550.6 L529.7 552 L529.9 553.3 L530.2 554.7 L530.5 556 L530.8 557.3 L531.1 558.7 L531.4 560 L531.7 561.3 L532 562.7 L532.3 564 L532.6 565.3 L532.9 566.7 L533.3 568 L533.6 569.3 L533.9 570.6 L534.3 572 L534.7 573.3 L535 574.6 L535.4 575.9 L535.8 577.3 L536.2 578.6 L536.6 579.9 L537.1 581.2 L537.5 582.5 L537.9 583.8 L538.4 585.1 L538.9 586.5 L539.4 587.8 L539.9 589 L540.5 590.3 L541 591.6 L541.6 592.9 L542.2 594.2 L542.9 595.5 L543.5 596.7 L544.2 598 L545 599.2 L545.8 600.4 L546.7 601.7 L547.6 602.8 L548.6 604 L549.7 605.1 L550.9 606.2 L552.2 607.2 L553.8 608.1 L555.5 608.8 L557.4 609.2 L559.4 609.3 L561.3 609 L563.1 608.4 L564.8 607.5 L566.2 606.6 L567.5 605.5 L568.6 604.3 L569.7 603.1 L570.6 601.9 L571.5 600.7 L572.3 599.4 L573 598.1 L573.7 596.9 L574.4 595.6 L575 594.3 L575.6 593 L576.2 591.7 L576.7 590.3 L577.2 589 L577.7 587.7 L578.2 586.4 L578.6 585.1 L579.1 583.8 L579.5 582.4 L579.9 581.1 L580.3 579.8 L580.7 578.4 L581.1 577.1 L581.4 575.8 L581.8 574.4 L582.1 573.1 L582.4 571.7 L582.7 570.4 L583 569.1 L583.4 567.7 L583.6 566.4 L583.9 565 L584.2 563.7 L584.5 562.4 L584.7 561 L585 559.7 L585.3 558.3 L585.5 557 L585.7 555.6 L586 554.3 L586.2 552.9 L586.4 551.6 L586.7 550.2 L586.9 548.9 L587.1 547.5 L587.3 546.2 L587.5 544.8 L587.7 543.5 L587.9 542.1 L588.1 540.8 L588.3 539.4 L588.5 538.1 L588.7 536.7 L588.9 535.4 L589.1 534 L589.3 532.7 L589.5 531.3 L589.6 530 L589.8 528.6 L590 527.3 L590.2 525.9 L590.3 524.6 L590.5 523.2 L590.7 521.9 L590.8 520.5 L591 519.2 L591.2 517.8 L591.3 516.5 L591.5 515.1 L591.6 513.8 L591.8 512.4 L592 511.1 L592.1 509.7 L592.3 508.4 L592.4 507 L592.5 505.7 L592.7 504.3 L592.8 503 L593 501.6 L593.1 500.3 L593.3 498.9 L593.4 497.6 L593.5 496.2 L593.7 494.9 L593.8 493.5 L593.9 492.2 L594.1 490.8 L594.2 489.5 L594.3 488.1 L594.4 486.8 L594.6 485.4 L594.7 484 L594.8 482.7 L594.9 481.3 L595.1 480 L595.2 478.6 L595.3 477.3 L595.4 475.9 L595.5 474.6 L595.7 473.2 L595.8 471.9 L595.9 470.5 L596 469.2 L596.1 467.8 L596.2 466.5 L596.3 465.1 L596.5 463.8 L596.6 462.4 L596.7 461.1 L596.8 459.7 L596.9 458.3 L597 457 L597.1 455.6 L597.2 454.3 L597.3 452.9 L597.4 451.6 L597.5 450.2 L597.6 448.9 L597.8 447.5 L597.9 446.2 L598 444.8 L598.1 443.5 L598.2 442.1 L598.3 440.8 L598.4 439.4 L598.5 438.1 L598.6 436.7 L598.7 435.3 L598.8 434 L598.9 432.6 L599 431.3 L599.1 429.9 L599.2 428.6 L599.3 427.2 L599.4 425.9 L599.5 424.5 L599.5 423.2 L599.6 421.8 L599.7 420.5 L599.8 419.1 L599.9 417.8 L600 416.4 L600.1 415 L600.2 413.7 L600.3 412.3 L600.4 411 L600.5 409.6 L600.6 408.3 L600.7 406.9 L600.8 405.6 L600.9 404.2 L601 402.9 L601.1 401.5 L601.1 400.2 L601.2 398.8 L601.3 397.5 L601.4 396.1 L601.5 394.7 L601.6 393.4 L601.7 392 L601.8 390.7 L601.9 389.3 L602 388 L602 386.6 L602.1 385.3 L602.2 383.9 L602.3 382.6 L602.4 381.2 L602.5 379.9 L602.6 378.5 L602.7 377.2 L602.8 375.8 L602.8 374.4 L602.9 373.1 L603 371.7 L603.1 370.4 L603.2 369 L603.3 367.7 L603.4 366.3 L603.5 365 L603.5 363.6 L603.6 362.3 L603.7 360.9 L603.8 359.6 L603.9 358.2 L604 356.8 L604.1 355.5 L604.2 354.1 L604.2 352.8 L604.3 351.4 L604.4 350.1 L604.5 348.7 L604.6 347.4 L604.7 346 L604.8 344.7 L604.8 343.3 L604.9 342 L605 340.6 L605.1 339.3 L605.2 337.9 L605.3 336.5 L605.4 335.2 L605.5 333.8 L605.5 332.5 L605.6 331.1 L605.7 329.8 L605.8 328.4 L605.9 327.1 L606 325.7 L606.1 324.4 L606.1 323 L606.2 321.7 L606.3 320.3 L606.4 319 L606.5 317.6 L606.6 316.3 L606.7 314.9 L606.8 313.5 L606.8 312.2 L606.9 310.8 L607 309.5 L607.1 308.1 L607.2 306.8 L607.3 305.4 L607.4 304.1 L607.5 302.7 L607.6 301.4 L607.6 300 L607.7 298.7 L607.8 297.3 L607.9 296 L608 294.6 L608.1 293.3 L608.2 291.9 L608.3 290.5 L608.4 289.2 L608.5 287.8 L608.6 286.5 L608.7 285.1 L608.7 283.8 L608.8 282.4 L608.9 281.1 L609 279.7 L609.1 278.4 L609.2 277 L609.3 275.7 L609.4 274.3 L609.5 273 L609.6 271.6 L609.7 270.3 L609.8 268.9 L609.9 267.6 L610 266.2 L610.1 264.9 L610.2 263.5 L610.3 262.2 L610.4 260.8 L610.5 259.4 L610.6 258.1 L610.7 256.7 L610.8 255.4 L610.9 254 L611 252.7 L611.1 251.3 L611.2 250 L611.4 248.6 L611.5 247.3 L611.6 245.9 L611.7 244.6 L611.8 243.2 L611.9 241.9 L612 240.5 L612.2 239.2 L612.3 237.8 L612.4 236.5 L612.5 235.1 L612.7 233.8 L612.8 232.5 L612.9 231.1 L613 229.8 L613.2 228.4 L613.3 227.1 L613.5 225.7 L613.6 224.4 L613.7 223 L613.9 221.7 L614.1 220.3 L614.2 219 L614.4 217.7 L614.6 216.3 L614.7 215 L614.9 213.7 L615.1 212.3 L615.4 211 L615.6 209.6 L615.8 208.3 L616.1 207 L616.4 205.8 L616.7 204.6 L617.1 203.3 L617.5 202.2 L616.9 202.3 L617.4 202.8 L617.7 203.7 L618 205.1 L618.3 206.5 L618.6 207.8 L618.9 209 L619.1 210.3 L619.4 211.6 L619.6 213 L619.8 214.3 L619.9 215.6 L620.1 217 L620.3 218.3 L620.5 219.7 L620.7 221 L620.8 222.3 L621 223.7 L621.1 225 L621.3 226.4 L621.4 227.7 L621.6 229.1 L621.7 230.4 L621.9 231.8 L622 233.1 L622.1 234.4 L622.3 235.8 L622.4 237.1 L622.5 238.5 L622.7 239.8 L622.8 241.2 L622.9 242.5 L623 243.9 L623.2 245.2 L623.3 246.6 L623.4 247.9 L623.5 249.3 L623.6 250.6 L623.8 252 L623.9 253.3 L624 254.7 L624.1 256 L624.2 257.4 L624.3 258.7 L624.4 260.1 L624.5 261.4 L624.6 262.8 L624.8 264.1 L624.9 265.5 L625 266.8 L625.1 268.2 L625.2 269.5 L625.3 270.9 L625.4 272.2 L625.5 273.6 L625.6 275 L625.7 276.3 L625.8 277.7 L625.9 279 L626 280.4 L626.1 281.7 L626.2 283.1 L626.3 284.4 L626.4 285.8 L626.5 287.1 L626.6 288.5 L626.7 289.8 L626.8 291.2 L626.9 292.5 L627 293.9 L627.1 295.2 L627.2 296.6 L627.3 297.9 L627.4 299.3 L627.5 300.6 L627.6 302 L627.7 303.3 L627.8 304.7 L627.9 306 L628 307.4 L628.1 308.8 L628.2 310.1 L628.3 311.5 L628.4 312.8 L628.5 314.2 L628.6 315.5 L628.7 316.9 L628.8 318.2 L628.9 319.6 L629 320.9 L629.1 322.3 L629.2 323.6 L629.3 325 L629.4 326.3 L629.5 327.7 L629.6 329 L629.7 330.4 L629.8 331.7 L629.9 333.1 L629.9 334.4 L630 335.8 L630.1 337.2 L630.2 338.5 L630.3 339.9 L630.4 341.2 L630.5 342.6 L630.6 343.9 L630.7 345.3 L630.8 346.6 L630.9 348 L631 349.3 L631.1 350.7 L631.2 352 L631.3 353.4 L631.4 354.7 L631.5 356.1 L631.6 357.4 L631.7 358.8 L631.8 360.2 L631.9 361.5 L632 362.9 L632 364.2 L632.1 365.6 L632.2 366.9 L632.3 368.3 L632.4 369.6 L632.5 371 L632.6 372.3 L632.7 373.7 L632.8 375 L632.9 376.4 L633 377.7 L633.1 379.1 L633.2 380.4 L633.3 381.8 L633.4 383.2 L633.5 384.5 L633.6 385.9 L633.7 387.2 L633.8 388.6 L633.9 389.9 L634 391.3 L634.1 392.6 L634.2 394 L634.3 395.3 L634.4 396.7 L634.5 398 L634.6 399.4 L634.7 400.7 L634.8 402.1 L634.9 403.4 L635 404.8 L635.1 406.1 L635.2 407.5 L635.3 408.9 L635.4 410.2 L635.5 411.6 L635.6 412.9 L635.7 414.3 L635.9 415.6 L636 417 L636.1 418.3 L636.2 419.7 L636.3 421 L636.4 422.4 L636.5 423.7 L636.6 425.1 L636.7 426.4 L636.8 427.8 L636.9 429.1 L637 430.5 L637.1 431.8 L637.3 433.2 L637.4 434.6 L637.5 435.9 L637.6 437.3 L637.7 438.6 L637.8 440 L637.9 441.3 L638 442.7 L638.2 444 L638.3 445.4 L638.4 446.7 L638.5 448.1 L638.6 449.4 L638.7 450.8 L638.9 452.1 L639 453.5 L639.1 454.8 L639.2 456.2 L639.3 457.5 L639.5 458.9 L639.6 460.2 L639.7 461.6 L639.8 462.9 L640 464.3 L640.1 465.6 L640.2 467 L640.3 468.4 L640.5 469.7 L640.6 471.1 L640.7 472.4 L640.9 473.8 L641 475.1 L641.1 476.5 L641.3 477.8 L641.4 479.2 L641.5 480.5 L641.7 481.9 L641.8 483.2 L641.9 484.6 L642.1 485.9 L642.2 487.3 L642.4 488.6 L642.5 490 L642.7 491.3 L642.8 492.7 L642.9 494 L643.1 495.4 L643.2 496.7 L643.4 498.1 L643.5 499.4 L643.7 500.8 L643.9 502.1 L644 503.5 L644.2 504.8 L644.3 506.2 L644.5 507.5 L644.7 508.9 L644.8 510.2 L645 511.6 L645.1 512.9 L645.3 514.3 L645.5 515.6 L645.7 517 L645.8 518.3 L646 519.7 L646.2 521 L646.4 522.4 L646.5 523.7 L646.7 525.1 L646.9 526.4 L647.1 527.8 L647.3 529.1 L647.5 530.4 L647.6 531.8 L647.8 533.1 L648 534.5 L648.2 535.8 L648.4 537.2 L648.6 538.5 L648.8 539.9 L649 541.2 L649.2 542.6 L649.5 543.9 L649.7 545.3 L649.9 546.6 L650.1 547.9 L650.3 549.3 L650.6 550.6 L650.8 552 L651 553.3 L651.2 554.7 L651.5 556 L651.7 557.4 L652 558.7 L652.2 560 L652.5 561.4 L652.7 562.7 L653 564.1 L653.2 565.4 L653.5 566.7 L653.8 568.1 L654 569.4 L654.3 570.8 L654.6 572.1 L654.9 573.4 L655.2 574.8 L655.5 576.1 L655.8 577.4 L656.1 578.8 L656.4 580.1 L656.7 581.4 L657 582.8 L657.3 584.1 L657.7 585.4 L658 586.8 L658.3 588.1 L658.7 589.4 L659.1 590.7 L659.4 592.1 L659.8 593.4 L660.2 594.7 L660.5 596 L660.9 597.4 L661.3 598.7 L661.7 600 L662.2 601.3 L662.6 602.6 L663 603.9 L663.5 605.2 L663.9 606.6 L664.4 607.9 L664.9 609.2 L665.4 610.5 L665.9 611.8 L666.4 613 L666.9 614.3 L667.4 615.6 L668 616.9 L668.6 618.2 L669.1 619.5 L669.7 620.7 L670.4 622 L671 623.2 L671.6 624.5 L672.3 625.7 L673 627 L673.7 628.2 L674.5 629.4 L675.2 630.6 L676 631.8 L676.9 633 L677.7 634.2 L678.6 635.4 L679.6 636.5 L680.5 637.6 L681.6 638.7 L682.6 639.8 L683.8 640.8 L685 641.8 L686.2 642.7 L687.5 643.6 L688.9 644.4 L690.4 645.2 L691.9 645.7 L694.6 646.3 L696.5 646.2 L698.2 645.9 L699.9 645.4 L701.5 644.8 L703.1 644.1 L704.5 643.3 L705.9 642.4 L707.1 641.5 L708.4 640.5 L709.5 639.4 L710.6 638.3 L711.6 637.2 L712.6 636 L713.5 634.9 L714.4 633.7 L715.2 632.5 L716 631.2 L716.8 630 L717.6 628.8 L718.3 627.5 L719 626.2 L719.6 625 L720.3 623.7 L720.9 622.4 L721.5 621.1 L722.1 619.8 L722.6 618.6 L723.2 617.3 L723.7 615.9 L724.2 614.6 L724.7 613.3 L725.2 612 L725.6 610.7 L726.1 609.4 L726.5 608.1 L727 606.7 L727.4 605.4 L727.8 604.1 L728.2 602.8 L728.6 601.4 L729 600.1 L729.3 598.8 L729.7 597.4 L730 596.1 L730.4 594.8 L730.7 593.4 L731.1 592.1 L731.4 590.7 L731.7 589.4 L732 588.1 L732.3 586.7 L732.6 585.4 L732.9 584 L733.2 582.7 L733.5 581.4 L733.8 580 L734 578.7 L734.3 577.3 L734.5 576 L734.8 574.6 L735 573.3 L735.3 571.9 L735.5 570.6 L735.8 569.2 L736 567.9 L736.2 566.5 L736.4 565.2 L736.7 563.9 L736.9 562.5 L737.1 561.2 L737.3 559.8 L737.5 558.5 L737.7 557.1 L737.9 555.8 L738.1 554.4 L738.3 553.1 L738.5 551.7 L738.7 550.4 L738.9 549 L739.1 547.7 L739.3 546.3 L739.5 545 L739.6 543.6 L739.8 542.3 L740 540.9 L740.2 539.5 L740.3 538.2 L740.5 536.8 L740.7 535.5 L740.8 534.1 L741 532.8 L741.1 531.4 L741.3 530.1 L741.4 528.7 L741.6 527.4 L741.8 526 L741.9 524.7 L742 523.3 L742.2 522 L742.3 520.6 L742.5 519.3 L742.6 517.9 L742.8 516.6 L742.9 515.2 L743 513.9 L743.2 512.5 L743.3 511.1 L743.4 509.8 L743.6 508.4 L743.7 507.1 L743.8 505.7 L743.9 504.4 L744.1 503 L744.2 501.7 L744.3 500.3 L744.4 499 L744.5 497.6 L744.7 496.3 L744.8 494.9 L744.9 493.6 L745 492.2 L745.1 490.8 L745.2 489.5 L745.4 488.1 L745.5 486.8 L745.6 485.4 L745.7 484.1 L745.8 482.7 L745.9 481.4 L746 480 L746.1 478.7 L746.2 477.3 L746.3 476 L746.4 474.6 L746.5 473.2 L746.6 471.9 L746.7 470.5 L746.8 469.2 L746.9 467.8 L747 466.5 L747.1 465.1 L747.2 463.8 L747.3 462.4 L747.4 461.1 L747.5 459.7 L747.6 458.4 L747.7 457 L747.8 455.6 L747.9 454.3 L748 452.9 L748.1 451.6 L748.2 450.2 L748.3 448.9 L748.4 447.5 L748.5 446.2 L748.6 444.8 L748.7 443.5 L748.8 442.1 L748.9 440.8 L749 439.4 L749.1 438 L749.2 436.7 L749.3 435.3 L749.4 434 L749.5 432.6 L749.6 431.3 L749.7 429.9 L749.8 428.6 L749.9 427.2 L750 425.9 L750.1 424.5 L750.2 423.2 L750.3 421.8 L750.4 420.5 L750.5 419.1 L750.6 417.8 L750.7 416.4 L750.8 415 L750.9 413.7 L750.9 412.3 L751 411 L751.1 409.6 L751.2 408.3 L751.3 406.9 L751.4 405.6 L751.5 404.2 L751.6 402.9 L751.7 401.5 L751.8 400.2 L751.9 398.8 L752 397.5 L752.1 396.1 L752.2 394.7 L752.3 393.4 L752.3 392 L752.4 390.7 L752.5 389.3 L752.6 388 L752.7 386.6 L752.8 385.3 L752.9 383.9 L753 382.6 L753.1 381.2 L753.2 379.9 L753.3 378.5 L753.4 377.2 L753.4 375.8 L753.5 374.4 L753.6 373.1 L753.7 371.7 L753.8 370.4 L753.9 369 L754 367.7 L754.1 366.3 L754.2 365 L754.3 363.6 L754.3 362.3 L754.4 360.9 L754.5 359.6 L754.6 358.2 L754.7 356.9 L754.8 355.5 L754.9 354.2 L755 352.8 L755.1 351.4 L755.2 350.1 L755.3 348.7 L755.4 347.4 L755.4 346 L755.5 344.7 L755.6 343.3 L755.7 342 L755.8 340.6 L755.9 339.3 L756 337.9 L756.1 336.6 L756.2 335.2 L756.3 333.9 L756.4 332.5 L756.5 331.2 L756.6 329.8 L756.7 328.5 L756.8 327.1 L756.9 325.7 L756.9 324.4 L757 323 L757.1 321.7 L757.2 320.3 L757.3 319 L757.4 317.6 L757.5 316.3 L757.6 314.9 L757.7 313.6 L757.8 312.2 L757.9 310.9 L758 309.5 L758.1 308.2 L758.2 306.8 L758.3 305.5 L758.4 304.1 L758.6 302.8 L758.7 301.4 L758.8 300.1 L758.9 298.7 L759 297.4 L759.1 296 L759.2 294.7 L759.3 293.3 L759.4 292 L759.5 290.6 L759.7 289.3 L759.8 287.9 L759.9 286.6 L760 285.2 L760.1 283.9 L760.2 282.5 L760.4 281.2 L760.5 279.8 L760.6 278.5 L760.7 277.1 L760.9 275.8 L761 274.4 L761.1 273.1 L761.3 271.7 L761.4 270.4 L761.6 269 L761.7 267.7 L761.8 266.3 L762 265 L762.1 263.7 L762.3 262.3 L762.5 261 L762.6 259.6 L762.8 258.3 L763 257 L763.2 255.6 L763.4 254.3 L763.6 252.9 L763.8 251.6 L764 250.3 L764.3 249 L764.6 247.8 L764.9 246.5 L765.2 245.1 L765.5 243.9 L765.8 243.4 L765.5 243.2 L765.8 243.9 L766.2 245.2 L766.6 246.4 L766.9 247.6 L767.1 248.9 L767.4 250.2 L767.6 251.6 L767.8 252.9 L768.1 254.3 L768.3 255.6 L768.4 256.9 L768.6 258.2 L768.8 259.6 L769 260.9 L769.1 262.3 L769.3 263.6 L769.4 264.9 L769.6 266.3 L769.7 267.6 L769.9 269 L770 270.3 L770.1 271.7 L770.3 273 L770.4 274.4 L770.5 275.7 L770.7 277.1 L770.8 278.4 L770.9 279.8 L771 281.1 L771.2 282.5 L771.3 283.8 L771.4 285.2 L771.5 286.5 L771.6 287.9 L771.7 289.2 L771.8 290.6 L772 291.9 L772.1 293.3 L772.2 294.6 L772.3 296 L772.4 297.3 L772.5 298.7 L772.6 300 L772.7 301.4 L772.8 302.7 L772.9 304.1 L773 305.4 L773.1 306.8 L773.2 308.1 L773.4 309.5 L773.5 310.8 L773.6 312.2 L773.7 313.5 L773.8 314.9 L773.9 316.2 L774 317.6 L774.1 318.9 L774.2 320.3 L774.3 321.6 L774.4 323 L774.5 324.3 L774.6 325.7 L774.7 327 L774.7 328.4 L774.8 329.8 L774.9 331.1 L775 332.5 L775.1 333.8 L775.2 335.2 L775.3 336.5 L775.4 337.9 L775.5 339.2 L775.6 340.6 L775.7 341.9 L775.8 343.3 L775.9 344.6 L776 346 L776.1 347.3 L776.2 348.7 L776.3 350 L776.4 351.4 L776.5 352.7 L776.5 354.1 L776.6 355.5 L776.7 356.8 L776.8 358.2 L776.9 359.5 L777 360.9 L777.1 362.2 L777.2 363.6 L777.3 364.9 L777.3 366.3 L777.4 367.6 L777.5 369 L777.6 370.3 L777.7 371.7 L777.8 373 L777.9 374.4 L778 375.7 L778.1 377.1 L778.2 378.5 L778.2 379.8 L778.3 381.2 L778.4 382.5 L778.5 383.9 L778.6 385.2 L778.7 386.6 L778.8 387.9 L778.9 389.3 L779 390.6 L779.1 392 L779.1 393.3 L779.2 394.7 L779.3 396 L779.4 397.4 L779.5 398.8 L779.6 400.1 L779.7 401.5 L779.8 402.8 L779.9 404.2 L780 405.5 L780.1 406.9 L780.2 408.2 L780.3 409.6 L780.3 410.9 L780.4 412.3 L780.5 413.6 L780.6 415 L780.7 416.3 L780.8 417.7 L780.9 419.1 L781 420.4 L781.1 421.8 L781.2 423.1 L781.3 424.5 L781.4 425.8 L781.6 427.2 L781.7 428.6 L781.8 429.9 L782 431.3 L782.1 432.6 L782.2 434 L782.4 435.3 L782.5 436.7 L782.7 438 L782.8 439.4 L783 440.7 L783.2 442.1 L783.3 443.4 L783.5 444.8 L783.6 446.1 L783.8 447.5 L784 448.8 L784.1 450.2 L784.3 451.5 L784.5 452.9 L784.6 454.2 L784.8 455.5 L784.9 456.9 L785.1 458.2 L785.3 459.6 L785.4 460.9 L785.6 462.3 L785.7 463.6 L785.9 465 L786 466.3 L786.2 467.7 L786.3 469 L786.5 470.4 L786.6 471.7 L786.7 473 L786.9 474.4 L787 475.7 L787.1 477.1 L787.3 478.4 L787.4 479.8 L787.5 481.1 L787.7 482.5 L787.8 483.8 L787.9 485.2 L788.1 486.5 L788.2 487.9 L788.3 489.2 L788.5 490.6 L788.6 491.9 L788.7 493.3 L788.9 494.6 L789 496 L789.2 497.3 L789.3 498.7 L789.5 500 L789.6 501.4 L789.7 502.7 L789.9 504.1 L790.1 505.4 L790.2 506.8 L790.4 508.1 L790.5 509.5 L790.7 510.8 L790.9 512.2 L791 513.5 L791.2 514.9 L791.4 516.2 L791.5 517.6 L791.7 518.9 L791.9 520.3 L792.1 521.6 L792.2 523 L792.4 524.3 L792.6 525.6 L792.8 527 L793 528.3 L793.1 529.7 L793.3 531 L793.5 532.4 L793.7 533.7 L793.9 535.1 L794 536.4 L794.2 537.8 L794.4 539.1 L794.6 540.4 L794.8 541.8 L794.9 543.1 L795.1 544.5 L795.3 545.8 L795.5 547.2 L795.6 548.5 L795.8 549.9 L796 551.2 L796.2 552.5 L796.3 553.9 L796.5 555.2 L796.7 556.6 L796.8 557.9 L797 559.3 L797.2 560.6 L797.4 562 L797.6 563.3 L797.7 564.7 L797.9 566 L798.1 567.4 L798.3 568.7 L798.5 570.1 L798.7 571.4 L798.9 572.8 L799.1 574.1 L799.3 575.5 L799.5 576.8 L799.7 578.2 L800 579.5 L800.2 580.9 L800.4 582.2 L800.7 583.6 L800.9 584.9 L801.2 586.3 L801.4 587.6 L801.7 589 L802 590.3 L802.2 591.7 L802.5 593 L802.8 594.3 L803.1 595.7 L803.4 597 L803.7 598.3 L804 599.6 L804.4 601 L804.7 602.3 L805 603.6 L805.3 604.9 L805.6 606.3 L805.9 607.6 L806.2 608.9 L806.5 610.2 L806.9 611.5 L807.2 612.8 L807.5 614.2 L807.8 615.5 L808.1 616.8 L808.4 618.1 L808.7 619.5 L809 620.8 L809.3 622.1 L809.6 623.5 L809.9 624.8 L810.3 626.1 L810.6 627.5 L811 628.8 L811.3 630.1 L811.7 631.5 L812.1 632.8 L812.5 634.2 L812.9 635.5 L813.3 636.8 L813.7 638.1 L814.2 639.5 L814.7 640.8 L815.2 642.1 L815.6 643.4 L816.2 644.7 L816.7 646 L817.2 647.3 L817.7 648.5 L818.3 649.8 L818.9 651.1 L819.4 652.3 L820 653.6 L820.6 654.8 L821.2 656.1 L821.8 657.3 L822.4 658.5 L823 659.8 L823.7 661 L824.3 662.3 L825 663.5 L825.7 664.7 L826.4 665.9 L827.2 667.2 L827.9 668.4 L828.7 669.5 L829.5 670.7 L830.3 671.9 L831.2 673 L832 674.1 L832.9 675.3 L833.7 676.4 L834.6 677.4 L835.5 678.5 L836.4 679.6 L837.3 680.7 L838.2 681.7 L839.2 682.7 L840.1 683.8 L841 684.8 L842 685.8 L842.9 686.8 L843.9 687.8 L844.9 688.8 L845.9 689.8 L846.9 690.8 L847.9 691.8 L848.9 692.7 L850 693.7 L851 694.6 L852.1 695.5 L853.1 696.4 L854.2 697.3 L855.3 698.2 L856.4 699.1 L857.5 699.9 L858.6 700.8 L859.8 701.7 L860.9 702.5 L862.1 703.3 L863.2 704.1 L864.4 704.9 L865.6 705.7 L866.8 706.5 L868 707.2 L869.2 708 L870.4 708.7 L871.6 709.4 L872.8 710.1 L874 710.8 L875.2 711.4 L876.4 712.1 L877.6 712.7 L878.8 713.4 L880 714 L881.2 714.7 L882.4 715.3 L883.7 716 L884.9 716.6 L886.1 717.2 L887.3 717.8 L888.6 718.5 L889.8 719.1 L891.1 719.6 L892.3 720.2 L893.6 720.8 L894.8 721.3 L896.1 721.9 L897.3 722.5 L898.6 723 L899.9 723.5 L901.1 724.1 L902.4 724.6 L903.6 725.1 L904.9 725.6 L906.1 726.2 L907.3 726.7 L908.5 727.2 L909.7 727.7 L910.9 728.3 L912.1 728.8 L913.2 729.4 L914.3 730 L915.4 730.6 L916.5 731.2 L917.5 731.8 L918.6 732.5 L919.6 733.2 L920.7 733.9 L921.7 734.6 L922.8 735.3 L923.8 736.1 L924.9 736.9 L925.9 737.7 L927 738.5 L928.1 739.3 L929.1 740.2 L930.2 741 L931.3 741.8 L932.4 742.6 L933.6 743.5 L934.7 744.3 L935.9 745.1 L937.1 745.9 L938.3 746.7 L939.5 747.5 L940.7 748.2 L941.9 748.9 L943.1 749.6 L944.3 750.3 L945.5 751 L946.7 751.6 L947.9 752.3 L949.1 752.9 L950.3 753.6 L951.4 754.2 L952.6 754.9 L953.7 755.6 L954.8 756.2 L955.9 756.9 L957 757.6 L958 758.4 L959.1 759.1 L960.1 759.9 L961.1 760.7 L962.1 761.5 L963.1 762.3 L964.1 763.1 L965 764 L966 764.9 L967 765.8 L967.9 766.7 L968.9 767.6 L969.8 768.5 L970.7 769.5 L971.7 770.4 L972.6 771.4 L973.5 772.4 L974.5 773.4 L975.4 774.3 L976.3 775.3 L977.2 776.3 L978.2 777.3 L979.1 778.3 L980 779.3 L981 780.3 L981.9 781.3 L982.9 782.3 L983.8 783.3 L984.8 784.3 L985.8 785.3 L986.8 786.3 L987.8 787.2 L988.8 788.2 L989.8 789.2 L990.8 790.1 L991.8 791.1 L992.8 792 L993.9 792.9 L994.9 793.8 L996 794.7 L997.1 795.6 L998.2 796.5 L999.3 797.4 L1000.4 798.2 L1001.5 799.1 L1002.6 799.9 L1003.8 800.7 L1004.9 801.5 L1006.1 802.3 L1007.3 803.1 L1008.5 803.9 L1009.8 804.6 L1011 805.3 L1012.3 806 L1013.5 806.7 L1014.8 807.4 L1016.2 808 L1017.5 808.6 L1018.9 809.1 L1020.3 809.7 L1021.7 810.1 L1023.1 810.6 L1024.6 810.9 L1026.1 811.3 L1027.6 811.6 L1029.1 811.9 L1030.7 812.1 L1032.3 812.2 L1033.9 812.3 L1035.5 812.2 L1037.2 812.1 L1038.8 811.9 L1040.3 811.7 L1041.9 811.4 L1043.4 811.1 L1045 810.7 L1046.4 810.3 L1047.9 809.9 L1049.3 809.4 L1050.7 809 L1052 808.5 L1053.4 808 L1054.7 807.5 L1056.1 807 L1057.4 806.4 L1058.7 805.9 L1060 805.3 L1061.3 804.7 L1062.6 804.1 L1063.8 803.5 L1065 802.8 L1066.3 802.2 L1067.5 801.5 L1068.7 800.9 L1069.9 800.2 L1071.1 799.5 L1072.3 798.8 L1073.5 798.1 L1074.7 797.4 L1075.9 796.7 L1077.1 796 L1078.3 795.3 L1079.5 794.6 L1080.6 793.9 L1081.8 793.2 L1083 792.4 L1084.1 791.7 L1085.3 791 L1086.5 790.3 L1087.6 789.5 L1088.8 788.8 L1089.9 788.1 L1091.1 787.3 L1092.2 786.6 L1093.3 785.9 L1094.5 785.2 L1095.6 784.4 L1096.7 783.7 L1097.8 783.1 L1098.9 782.4 L1100.1 781.7 L1101.2 781.1 L1102.3 780.4 L1103.4 779.8 L1104.4 779.2 L1105.5 778.6 L1106.6 778 L1107.7 777.5 L1108.8 776.9 L1109.8 776.4 L1110.9 775.9 L1112 775.4 L1113 775 L1114.1 774.5 L1115.2 774.1 L1116.2 773.7 L1117.3 773.2 L1118.4 772.8 L1119.5 772.4 L1120.6 771.9 L1121.7 771.5 L1122.9 771.1 L1124 770.7 L1125.2 770.3 L1126.4 769.9 L1127.6 769.5 L1128.8 769.1 L1130 768.8 L1131.3 768.4 L1132.5 768.1 L1133.8 767.8 L1135 767.5 L1136.3 767.3 L1137.6 767.1 L1138.9 766.8 L1140.2 766.6 L1141.5 766.4 L1142.8 766.2 L1144.2 766 L1145.5 765.9 L1146.8 765.7 L1148.1 765.5 L1149.5 765.4 L1150.8 765.2 L1152.1 765.1 L1153.5 764.9 L1154.8 764.8 L1156.2 764.6 L1157.5 764.5 L1158.8 764.4 L1160.2 764.2 L1161.5 764.1 L1160.5 749.9 L1159.2 750 L1157.9 750 L1156.6 750 L1155.2 750.1 L1153.9 750.1 L1152.5 750.1 L1151.2 750.2 L1149.8 750.2 L1148.4 750.2 L1147 750.2 L1145.6 750.3 L1144.2 750.3 L1142.8 750.4 L1141.4 750.4 L1140 750.5 L1138.6 750.5 L1137.2 750.6 L1135.7 750.7 L1134.3 750.8 L1132.9 750.9 L1131.4 751 L1130 751.1 L1128.5 751.2 L1127 751.3 L1125.6 751.4 L1124.1 751.5 L1122.6 751.7 L1121.1 751.8 L1119.7 752 L1118.2 752.3 L1116.7 752.5 L1115.2 752.8 L1113.7 753.1 L1112.2 753.5 L1110.8 753.9 L1109.3 754.4 L1107.8 754.9 L1106.4 755.4 L1105 756 L1103.6 756.6 L1102.2 757.3 L1100.8 757.9 L1099.5 758.6 L1098.1 759.3 L1096.8 760.1 L1095.5 760.8 L1094.3 761.5 L1093 762.3 L1091.8 763.1 L1090.5 763.9 L1089.3 764.6 L1088.1 765.4 L1087 766.2 L1085.8 767 L1084.6 767.8 L1083.5 768.6 L1082.3 769.4 L1081.2 770.2 L1080.1 771 L1079 771.8 L1077.9 772.6 L1076.7 773.4 L1075.6 774.2 L1074.5 775 L1073.4 775.8 L1072.3 776.6 L1071.3 777.3 L1070.2 778.1 L1069.1 778.9 L1068 779.7 L1066.9 780.5 L1065.8 781.3 L1064.7 782 L1063.7 782.8 L1062.6 783.6 L1061.5 784.3 L1060.4 785.1 L1059.3 785.9 L1058.3 786.6 L1057.2 787.4 L1056.1 788.1 L1055 788.9 L1054 789.7 L1052.9 790.4 L1051.9 791.2 L1050.8 792 L1049.8 792.8 L1048.7 793.5 L1047.7 794.3 L1046.6 795.1 L1045.5 795.8 L1044.5 796.6 L1043.4 797.3 L1042.3 798 L1041.3 798.7 L1040.2 799.4 L1039.2 800.1 L1038.2 800.7 L1037.2 801.2 L1036.1 801.7 L1035.1 802.2 L1034.1 802.5 L1033 802.8 L1031.9 803.1 L1030.8 803.3 L1029.6 803.4 L1028.5 803.4 L1027.3 803.4 L1026 803.3 L1024.8 803.1 L1023.6 802.9 L1022.4 802.6 L1021.2 802.3 L1020 801.9 L1018.9 801.5 L1017.7 801 L1016.5 800.6 L1015.4 800 L1014.2 799.4 L1013.1 798.8 L1012 798.2 L1010.8 797.5 L1009.8 796.8 L1008.7 796.1 L1007.6 795.3 L1006.6 794.6 L1005.5 793.8 L1004.5 793 L1003.5 792.1 L1002.5 791.3 L1001.5 790.4 L1000.6 789.5 L999.6 788.6 L998.7 787.7 L997.7 786.8 L996.8 785.9 L995.8 784.9 L994.9 784 L994 783 L993.1 782 L992.2 781.1 L991.2 780.1 L990.3 779.1 L989.4 778.1 L988.5 777.1 L987.6 776.1 L986.7 775.1 L985.8 774 L984.9 773 L984 772 L983 771 L982.1 770 L981.2 769 L980.2 767.9 L979.3 766.9 L978.4 765.9 L977.4 764.9 L976.4 763.9 L975.5 762.9 L974.5 761.9 L973.5 761 L972.5 760 L971.5 759 L970.5 758.1 L969.4 757.1 L968.4 756.2 L967.3 755.3 L966.2 754.4 L965.1 753.5 L964 752.6 L962.9 751.7 L961.7 750.9 L960.6 750.1 L959.4 749.3 L958.3 748.5 L957.1 747.7 L956 746.9 L954.8 746.1 L953.7 745.4 L952.5 744.6 L951.4 743.9 L950.3 743.1 L949.2 742.4 L948 741.6 L946.9 740.9 L945.9 740.1 L944.8 739.4 L943.7 738.7 L942.7 737.9 L941.7 737.1 L940.6 736.3 L939.6 735.5 L938.6 734.7 L937.5 733.9 L936.5 733 L935.5 732.2 L934.4 731.3 L933.3 730.4 L932.3 729.6 L931.2 728.7 L930.1 727.8 L929 727 L927.8 726.1 L926.7 725.3 L925.5 724.5 L924.3 723.7 L923 722.9 L921.8 722.1 L920.5 721.4 L919.2 720.7 L917.9 720 L916.7 719.4 L915.4 718.8 L914.1 718.2 L912.8 717.6 L911.5 717 L910.2 716.5 L908.9 716 L907.7 715.4 L906.4 714.9 L905.2 714.4 L903.9 713.9 L902.7 713.3 L901.4 712.8 L900.2 712.3 L899 711.8 L897.7 711.3 L896.5 710.7 L895.3 710.2 L894.1 709.7 L892.9 709.1 L891.6 708.6 L890.4 708.1 L889.2 707.5 L888 707 L886.7 706.5 L885.5 705.9 L884.3 705.4 L883 704.8 L881.8 704.3 L880.6 703.7 L879.3 703.2 L878.1 702.6 L876.9 702.1 L875.7 701.5 L874.5 701 L873.4 700.4 L872.2 699.8 L871.1 699.2 L869.9 698.5 L868.8 697.9 L867.7 697.2 L866.6 696.6 L865.5 695.9 L864.4 695.2 L863.3 694.4 L862.2 693.7 L861.2 692.9 L860.2 692.1 L859.1 691.3 L858.1 690.5 L857.1 689.6 L856.1 688.8 L855.1 687.9 L854.2 687 L853.2 686.1 L852.2 685.2 L851.3 684.3 L850.4 683.4 L849.4 682.4 L848.5 681.5 L847.6 680.5 L846.7 679.6 L845.8 678.6 L844.9 677.6 L844 676.6 L843.2 675.6 L842.3 674.6 L841.4 673.6 L840.6 672.6 L839.8 671.5 L839 670.5 L838.2 669.5 L837.4 668.4 L836.7 667.4 L835.9 666.3 L835.2 665.2 L834.5 664.1 L833.8 663 L833.1 662 L832.5 660.8 L831.8 659.7 L831.2 658.6 L830.6 657.4 L830 656.2 L829.4 655.1 L828.8 653.9 L828.2 652.7 L827.6 651.4 L827.1 650.2 L826.5 649 L825.9 647.8 L825.3 646.6 L824.8 645.4 L824.2 644.2 L823.7 643 L823.2 641.8 L822.6 640.6 L822.1 639.4 L821.6 638.1 L821.2 636.9 L820.7 635.7 L820.3 634.5 L819.8 633.2 L819.4 632 L819 630.7 L818.6 629.4 L818.3 628.2 L817.9 626.9 L817.5 625.6 L817.2 624.3 L816.8 623 L816.5 621.7 L816.1 620.4 L815.8 619.1 L815.4 617.8 L815.1 616.5 L814.8 615.2 L814.5 613.9 L814.1 612.6 L813.8 611.2 L813.5 609.9 L813.1 608.6 L812.8 607.3 L812.4 606 L812.1 604.6 L811.8 603.3 L811.4 602 L811.1 600.7 L810.8 599.4 L810.4 598.1 L810.1 596.8 L809.8 595.5 L809.4 594.2 L809.1 592.9 L808.8 591.6 L808.5 590.3 L808.2 589 L807.9 587.7 L807.6 586.3 L807.4 585 L807.1 583.7 L806.8 582.4 L806.6 581.1 L806.3 579.8 L806 578.5 L805.8 577.1 L805.6 575.8 L805.3 574.5 L805.1 573.2 L804.9 571.8 L804.6 570.5 L804.4 569.2 L804.2 567.8 L804 566.5 L803.8 565.2 L803.6 563.8 L803.4 562.5 L803.1 561.2 L802.9 559.8 L802.7 558.5 L802.5 557.2 L802.4 555.8 L802.2 554.5 L802 553.1 L801.8 551.8 L801.6 550.4 L801.4 549.1 L801.2 547.8 L801 546.4 L800.8 545.1 L800.6 543.7 L800.4 542.4 L800.2 541 L800 539.7 L799.8 538.3 L799.7 537 L799.5 535.7 L799.3 534.3 L799.1 533 L798.9 531.6 L798.7 530.3 L798.5 528.9 L798.3 527.6 L798.1 526.3 L797.9 524.9 L797.8 523.6 L797.6 522.2 L797.4 520.9 L797.2 519.6 L797 518.2 L796.8 516.9 L796.6 515.5 L796.5 514.2 L796.3 512.9 L796.1 511.5 L795.9 510.2 L795.7 508.8 L795.6 507.5 L795.4 506.1 L795.2 504.8 L795 503.5 L794.9 502.1 L794.7 500.8 L794.5 499.4 L794.4 498.1 L794.2 496.8 L794 495.4 L793.9 494.1 L793.7 492.7 L793.5 491.4 L793.3 490 L793.2 488.7 L793 487.3 L792.8 486 L792.7 484.7 L792.5 483.3 L792.3 482 L792.2 480.6 L792 479.3 L791.8 477.9 L791.6 476.6 L791.5 475.2 L791.3 473.9 L791.1 472.5 L791 471.2 L790.8 469.8 L790.6 468.5 L790.4 467.2 L790.3 465.8 L790.1 464.5 L789.9 463.1 L789.7 461.8 L789.6 460.4 L789.4 459.1 L789.2 457.7 L789 456.4 L788.8 455 L788.6 453.7 L788.5 452.3 L788.3 451 L788.1 449.7 L787.9 448.3 L787.7 447 L787.6 445.6 L787.4 444.3 L787.2 442.9 L787 441.6 L786.9 440.3 L786.7 438.9 L786.5 437.6 L786.3 436.2 L786.2 434.9 L786 433.5 L785.9 432.2 L785.7 430.9 L785.6 429.5 L785.4 428.2 L785.3 426.8 L785.1 425.5 L785 424.1 L784.9 422.8 L784.7 421.5 L784.6 420.1 L784.5 418.8 L784.4 417.4 L784.3 416.1 L784.2 414.7 L784.1 413.4 L784 412 L783.9 410.7 L783.7 409.3 L783.6 408 L783.5 406.6 L783.4 405.3 L783.3 403.9 L783.2 402.6 L783.1 401.2 L783 399.9 L782.9 398.5 L782.8 397.2 L782.7 395.8 L782.5 394.4 L782.4 393.1 L782.3 391.7 L782.2 390.4 L782.1 389 L782 387.7 L781.9 386.3 L781.8 385 L781.7 383.6 L781.6 382.3 L781.5 380.9 L781.4 379.6 L781.3 378.2 L781.2 376.9 L781.1 375.5 L781 374.2 L780.9 372.8 L780.8 371.5 L780.7 370.1 L780.6 368.8 L780.4 367.4 L780.3 366.1 L780.2 364.7 L780.1 363.4 L780 362 L779.9 360.7 L779.8 359.3 L779.7 358 L779.6 356.6 L779.5 355.2 L779.4 353.9 L779.3 352.5 L779.2 351.2 L779.1 349.8 L779 348.5 L778.9 347.1 L778.8 345.8 L778.7 344.4 L778.6 343.1 L778.5 341.7 L778.4 340.4 L778.3 339 L778.2 337.7 L778.1 336.3 L778 335 L777.9 333.6 L777.8 332.3 L777.7 330.9 L777.6 329.6 L777.5 328.2 L777.4 326.8 L777.3 325.5 L777.2 324.1 L777.1 322.8 L777 321.4 L776.9 320.1 L776.8 318.7 L776.7 317.4 L776.6 316 L776.5 314.7 L776.4 313.3 L776.3 312 L776.2 310.6 L776.1 309.3 L776 307.9 L775.9 306.6 L775.7 305.2 L775.6 303.9 L775.5 302.5 L775.4 301.1 L775.3 299.8 L775.2 298.4 L775.1 297.1 L775 295.7 L774.9 294.4 L774.8 293 L774.6 291.7 L774.5 290.3 L774.4 289 L774.3 287.6 L774.2 286.3 L774 284.9 L773.9 283.6 L773.8 282.2 L773.7 280.9 L773.5 279.5 L773.4 278.2 L773.3 276.8 L773.2 275.5 L773 274.1 L772.9 272.8 L772.8 271.4 L772.6 270.1 L772.5 268.7 L772.3 267.4 L772.2 266 L772 264.6 L771.9 263.3 L771.7 261.9 L771.5 260.6 L771.4 259.2 L771.2 257.9 L771 256.6 L770.8 255.2 L770.6 253.9 L770.4 252.5 L770.2 251.1 L770 249.8 L769.7 248.4 L769.4 247.1 L769.1 245.8 L768.7 244.4 L768.2 243 L767.1 241.2 L764.3 241.3 L763.1 243 L762.7 244.5 L762.4 245.8 L762.1 247.1 L761.7 248.5 L761.5 249.8 L761.2 251.2 L761 252.5 L760.8 253.9 L760.6 255.3 L760.4 256.6 L760.2 258 L760.1 259.3 L759.9 260.7 L759.7 262 L759.6 263.4 L759.4 264.7 L759.3 266.1 L759.1 267.4 L759 268.8 L758.8 270.1 L758.7 271.5 L758.5 272.8 L758.4 274.2 L758.3 275.5 L758.1 276.9 L758 278.2 L757.9 279.6 L757.7 280.9 L757.6 282.3 L757.5 283.6 L757.4 285 L757.2 286.3 L757.1 287.7 L757 289 L756.9 290.4 L756.8 291.7 L756.7 293.1 L756.5 294.4 L756.4 295.8 L756.3 297.1 L756.2 298.5 L756.1 299.8 L756 301.2 L755.9 302.5 L755.7 303.9 L755.6 305.3 L755.5 306.6 L755.4 308 L755.3 309.3 L755.2 310.7 L755.1 312 L755 313.4 L754.9 314.7 L754.8 316.1 L754.7 317.4 L754.6 318.8 L754.4 320.1 L754.3 321.5 L754.2 322.8 L754.1 324.2 L754 325.5 L753.9 326.9 L753.8 328.2 L753.7 329.6 L753.6 330.9 L753.5 332.3 L753.4 333.6 L753.3 335 L753.2 336.4 L753.1 337.7 L753 339.1 L752.9 340.4 L752.7 341.8 L752.6 343.1 L752.5 344.5 L752.4 345.8 L752.3 347.2 L752.2 348.5 L752.1 349.9 L752 351.2 L751.9 352.6 L751.8 353.9 L751.7 355.3 L751.6 356.6 L751.5 358 L751.4 359.3 L751.3 360.7 L751.2 362 L751.1 363.4 L751 364.7 L750.8 366.1 L750.7 367.4 L750.6 368.8 L750.5 370.2 L750.4 371.5 L750.3 372.9 L750.2 374.2 L750.1 375.6 L750 376.9 L749.9 378.3 L749.8 379.6 L749.7 381 L749.6 382.3 L749.4 383.7 L749.3 385 L749.2 386.4 L749.1 387.7 L749 389.1 L748.9 390.4 L748.8 391.8 L748.7 393.1 L748.6 394.5 L748.5 395.8 L748.3 397.2 L748.2 398.5 L748.1 399.9 L748 401.2 L747.9 402.6 L747.8 403.9 L747.7 405.3 L747.6 406.6 L747.4 408 L747.3 409.3 L747.2 410.7 L747.1 412 L747 413.4 L746.9 414.7 L746.8 416.1 L746.6 417.4 L746.5 418.8 L746.4 420.1 L746.3 421.5 L746.2 422.8 L746 424.2 L745.9 425.5 L745.8 426.9 L745.7 428.2 L745.6 429.6 L745.4 430.9 L745.3 432.3 L745.2 433.6 L745.1 435 L744.9 436.3 L744.8 437.7 L744.7 439 L744.6 440.4 L744.4 441.7 L744.3 443.1 L744.2 444.4 L744 445.8 L743.9 447.1 L743.8 448.5 L743.6 449.8 L743.5 451.2 L743.4 452.5 L743.2 453.9 L743.1 455.2 L742.9 456.6 L742.8 457.9 L742.6 459.3 L742.5 460.6 L742.3 462 L742.2 463.3 L742 464.7 L741.9 466 L741.7 467.3 L741.6 468.7 L741.4 470 L741.3 471.4 L741.1 472.7 L741 474.1 L740.8 475.4 L740.7 476.8 L740.5 478.1 L740.3 479.5 L740.2 480.8 L740 482.1 L739.9 483.5 L739.7 484.8 L739.5 486.2 L739.4 487.5 L739.2 488.9 L739.1 490.2 L738.9 491.6 L738.7 492.9 L738.5 494.2 L738.4 495.6 L738.2 496.9 L738 498.3 L737.9 499.6 L737.7 501 L737.5 502.3 L737.3 503.6 L737.1 505 L737 506.3 L736.8 507.7 L736.6 509 L736.4 510.3 L736.2 511.7 L736.1 513 L735.9 514.4 L735.7 515.7 L735.5 517 L735.3 518.4 L735.1 519.7 L734.9 521.1 L734.7 522.4 L734.5 523.7 L734.3 525.1 L734.1 526.4 L733.9 527.7 L733.7 529.1 L733.5 530.4 L733.3 531.8 L733.1 533.1 L732.9 534.4 L732.7 535.8 L732.5 537.1 L732.3 538.4 L732.1 539.8 L731.9 541.1 L731.6 542.4 L731.4 543.8 L731.2 545.1 L731 546.4 L730.8 547.7 L730.5 549.1 L730.3 550.4 L730.1 551.7 L729.8 553.1 L729.6 554.4 L729.4 555.7 L729.1 557 L728.9 558.4 L728.6 559.7 L728.4 561 L728.1 562.3 L727.9 563.7 L727.6 565 L727.3 566.3 L727.1 567.6 L726.8 568.9 L726.5 570.2 L726.3 571.6 L726 572.9 L725.7 574.2 L725.4 575.5 L725.1 576.8 L724.8 578.1 L724.5 579.4 L724.2 580.7 L723.9 582 L723.6 583.3 L723.3 584.6 L723 585.9 L722.7 587.2 L722.3 588.5 L722 589.8 L721.7 591.1 L721.4 592.4 L721 593.7 L720.7 595 L720.3 596.3 L719.9 597.5 L719.6 598.8 L719.2 600.1 L718.8 601.3 L718.4 602.6 L718 603.9 L717.6 605.1 L717.2 606.4 L716.8 607.6 L716.3 608.9 L715.9 610.1 L715.4 611.3 L715 612.6 L714.5 613.8 L714 615 L713.6 616.2 L713.1 617.4 L712.5 618.6 L712 619.8 L711.5 620.9 L710.9 622.1 L710.3 623.2 L709.7 624.3 L709.1 625.4 L708.5 626.5 L707.8 627.6 L707.1 628.6 L706.4 629.6 L705.7 630.6 L705 631.6 L704.2 632.5 L703.4 633.3 L702.6 634.2 L701.8 634.9 L700.9 635.6 L700 636.3 L699.1 636.8 L698.2 637.3 L697.3 637.7 L696.4 638 L695.4 638.2 L694.7 638.3 L694.7 638.3 L693.6 637.8 L692.7 637.4 L691.8 636.8 L690.8 636.2 L689.9 635.5 L689 634.8 L688.1 634 L687.3 633.1 L686.5 632.2 L685.6 631.3 L684.8 630.4 L684.1 629.4 L683.3 628.4 L682.6 627.4 L681.9 626.3 L681.2 625.2 L680.5 624.1 L679.8 623 L679.2 621.9 L678.6 620.8 L678 619.6 L677.4 618.5 L676.8 617.3 L676.2 616.1 L675.7 614.9 L675.1 613.8 L674.6 612.5 L674.1 611.3 L673.5 610.1 L673 608.9 L672.6 607.7 L672.1 606.4 L671.6 605.2 L671.1 604 L670.7 602.7 L670.2 601.5 L669.8 600.2 L669.4 598.9 L668.9 597.7 L668.5 596.4 L668.1 595.1 L667.7 593.9 L667.3 592.6 L666.9 591.3 L666.6 590 L666.2 588.7 L665.8 587.5 L665.4 586.2 L665.1 584.9 L664.7 583.6 L664.4 582.3 L664 581 L663.7 579.7 L663.4 578.4 L663 577.1 L662.7 575.8 L662.4 574.5 L662.1 573.2 L661.7 571.9 L661.4 570.6 L661.1 569.3 L660.8 567.9 L660.5 566.6 L660.2 565.3 L659.9 564 L659.7 562.7 L659.4 561.4 L659.1 560.1 L658.8 558.7 L658.5 557.4 L658.3 556.1 L658 554.8 L657.7 553.5 L657.5 552.1 L657.2 550.8 L657 549.5 L656.7 548.2 L656.5 546.8 L656.2 545.5 L656 544.2 L655.7 542.8 L655.5 541.5 L655.2 540.2 L655 538.9 L654.8 537.5 L654.5 536.2 L654.3 534.9 L654.1 533.5 L653.9 532.2 L653.6 530.9 L653.4 529.5 L653.2 528.2 L653 526.9 L652.8 525.5 L652.5 524.2 L652.3 522.9 L652.1 521.5 L651.9 520.2 L651.7 518.9 L651.5 517.5 L651.3 516.2 L651.1 514.8 L650.9 513.5 L650.7 512.2 L650.5 510.8 L650.3 509.5 L650.1 508.1 L650 506.8 L649.8 505.5 L649.6 504.1 L649.4 502.8 L649.2 501.4 L649 500.1 L648.8 498.8 L648.7 497.4 L648.5 496.1 L648.3 494.7 L648.1 493.4 L648 492.1 L647.8 490.7 L647.6 489.4 L647.4 488 L647.3 486.7 L647.1 485.3 L646.9 484 L646.8 482.7 L646.6 481.3 L646.4 480 L646.3 478.6 L646.1 477.3 L645.9 475.9 L645.8 474.6 L645.6 473.2 L645.5 471.9 L645.3 470.6 L645.2 469.2 L645 467.9 L644.8 466.5 L644.7 465.2 L644.5 463.8 L644.4 462.5 L644.2 461.1 L644.1 459.8 L643.9 458.4 L643.8 457.1 L643.6 455.7 L643.5 454.4 L643.3 453.1 L643.2 451.7 L643.1 450.4 L642.9 449 L642.8 447.7 L642.6 446.3 L642.5 445 L642.3 443.6 L642.2 442.3 L642.1 440.9 L641.9 439.6 L641.8 438.2 L641.6 436.9 L641.5 435.5 L641.4 434.2 L641.2 432.8 L641.1 431.5 L641 430.1 L640.8 428.8 L640.7 427.4 L640.6 426.1 L640.4 424.7 L640.3 423.4 L640.2 422 L640.1 420.7 L639.9 419.3 L639.8 418 L639.7 416.6 L639.6 415.3 L639.4 413.9 L639.3 412.6 L639.2 411.3 L639.1 409.9 L638.9 408.6 L638.8 407.2 L638.7 405.9 L638.6 404.5 L638.4 403.2 L638.3 401.8 L638.2 400.5 L638.1 399.1 L638 397.8 L637.8 396.4 L637.7 395 L637.6 393.7 L637.5 392.3 L637.4 391 L637.3 389.6 L637.1 388.3 L637 386.9 L636.9 385.6 L636.8 384.2 L636.7 382.9 L636.6 381.5 L636.5 380.2 L636.3 378.8 L636.2 377.5 L636.1 376.1 L636 374.8 L635.9 373.4 L635.8 372.1 L635.7 370.7 L635.6 369.4 L635.5 368 L635.3 366.7 L635.2 365.3 L635.1 364 L635 362.6 L634.9 361.3 L634.8 359.9 L634.7 358.6 L634.6 357.2 L634.5 355.9 L634.4 354.5 L634.3 353.2 L634.2 351.8 L634 350.5 L633.9 349.1 L633.8 347.8 L633.7 346.4 L633.6 345.1 L633.5 343.7 L633.4 342.4 L633.3 341 L633.2 339.6 L633.1 338.3 L633 336.9 L632.9 335.6 L632.8 334.2 L632.7 332.9 L632.6 331.5 L632.5 330.2 L632.4 328.8 L632.3 327.5 L632.2 326.1 L632.1 324.8 L632 323.4 L631.9 322.1 L631.8 320.7 L631.7 319.4 L631.6 318 L631.5 316.7 L631.4 315.3 L631.3 314 L631.2 312.6 L631.1 311.3 L631 309.9 L630.9 308.5 L630.8 307.2 L630.7 305.8 L630.6 304.5 L630.4 303.1 L630.3 301.8 L630.2 300.4 L630.1 299.1 L630 297.7 L629.9 296.4 L629.8 295 L629.7 293.7 L629.6 292.3 L629.5 291 L629.4 289.6 L629.3 288.3 L629.2 286.9 L629.1 285.6 L629 284.2 L628.9 282.9 L628.8 281.5 L628.7 280.2 L628.6 278.8 L628.5 277.4 L628.4 276.1 L628.3 274.7 L628.2 273.4 L628.1 272 L627.9 270.7 L627.8 269.3 L627.7 268 L627.6 266.6 L627.5 265.3 L627.4 263.9 L627.3 262.6 L627.2 261.2 L627.1 259.9 L626.9 258.5 L626.8 257.2 L626.7 255.8 L626.6 254.5 L626.5 253.1 L626.4 251.8 L626.2 250.4 L626.1 249.1 L626 247.7 L625.9 246.4 L625.8 245 L625.6 243.6 L625.5 242.3 L625.4 240.9 L625.3 239.6 L625.1 238.2 L625 236.9 L624.9 235.5 L624.7 234.2 L624.6 232.8 L624.5 231.5 L624.3 230.1 L624.2 228.8 L624 227.4 L623.9 226.1 L623.7 224.7 L623.6 223.4 L623.4 222 L623.2 220.7 L623.1 219.3 L622.9 218 L622.7 216.6 L622.5 215.3 L622.3 213.9 L622.1 212.6 L621.9 211.2 L621.7 209.9 L621.4 208.5 L621.1 207.1 L620.8 205.8 L620.5 204.5 L620.2 203.2 L619.7 201.6 L618.1 200 L615.4 200.8 L614.6 202.5 L614.2 203.9 L613.8 205.2 L613.5 206.5 L613.3 207.8 L613 209.2 L612.8 210.6 L612.6 211.9 L612.4 213.3 L612.2 214.6 L612 216 L611.8 217.3 L611.6 218.7 L611.5 220 L611.3 221.4 L611.1 222.7 L611 224.1 L610.8 225.4 L610.7 226.8 L610.6 228.1 L610.4 229.5 L610.3 230.8 L610.1 232.2 L610 233.5 L609.9 234.9 L609.7 236.3 L609.6 237.6 L609.5 239 L609.4 240.3 L609.2 241.7 L609.1 243 L609 244.4 L608.9 245.7 L608.8 247.1 L608.7 248.4 L608.5 249.8 L608.4 251.1 L608.3 252.5 L608.2 253.8 L608.1 255.2 L608 256.5 L607.9 257.9 L607.8 259.2 L607.7 260.6 L607.6 261.9 L607.5 263.3 L607.4 264.6 L607.3 266 L607.2 267.4 L607.1 268.7 L607 270.1 L606.9 271.4 L606.8 272.8 L606.7 274.1 L606.6 275.5 L606.5 276.8 L606.4 278.2 L606.3 279.5 L606.2 280.9 L606.1 282.2 L606 283.6 L605.9 284.9 L605.8 286.3 L605.7 287.6 L605.6 289 L605.5 290.4 L605.4 291.7 L605.3 293.1 L605.2 294.4 L605.1 295.8 L605 297.1 L604.9 298.5 L604.8 299.8 L604.7 301.2 L604.6 302.5 L604.5 303.9 L604.5 305.2 L604.4 306.6 L604.3 307.9 L604.2 309.3 L604.1 310.6 L604 312 L603.9 313.4 L603.8 314.7 L603.7 316.1 L603.6 317.4 L603.5 318.8 L603.4 320.1 L603.3 321.5 L603.2 322.8 L603.1 324.2 L603 325.5 L603 326.9 L602.9 328.2 L602.8 329.6 L602.7 330.9 L602.6 332.3 L602.5 333.6 L602.4 335 L602.3 336.4 L602.2 337.7 L602.1 339.1 L602 340.4 L601.9 341.8 L601.8 343.1 L601.7 344.5 L601.6 345.8 L601.5 347.2 L601.4 348.5 L601.4 349.9 L601.3 351.2 L601.2 352.6 L601.1 353.9 L601 355.3 L600.9 356.6 L600.8 358 L600.7 359.3 L600.6 360.7 L600.5 362 L600.4 363.4 L600.3 364.8 L600.2 366.1 L600.1 367.5 L600 368.8 L599.9 370.2 L599.8 371.5 L599.7 372.9 L599.6 374.2 L599.5 375.6 L599.4 376.9 L599.3 378.3 L599.2 379.6 L599.1 381 L599 382.3 L598.9 383.7 L598.8 385 L598.7 386.4 L598.6 387.7 L598.5 389.1 L598.4 390.4 L598.2 391.8 L598.1 393.1 L598 394.5 L597.9 395.8 L597.8 397.2 L597.7 398.5 L597.6 399.9 L597.5 401.3 L597.4 402.6 L597.3 404 L597.2 405.3 L597.1 406.7 L597 408 L596.9 409.4 L596.7 410.7 L596.6 412.1 L596.5 413.4 L596.4 414.8 L596.3 416.1 L596.2 417.5 L596.1 418.8 L595.9 420.2 L595.8 421.5 L595.7 422.9 L595.6 424.2 L595.5 425.6 L595.4 426.9 L595.2 428.3 L595.1 429.6 L595 431 L594.9 432.3 L594.8 433.7 L594.6 435 L594.5 436.4 L594.4 437.7 L594.3 439.1 L594.1 440.4 L594 441.8 L593.9 443.1 L593.8 444.5 L593.6 445.8 L593.5 447.2 L593.4 448.5 L593.2 449.9 L593.1 451.2 L593 452.6 L592.8 453.9 L592.7 455.2 L592.6 456.6 L592.4 457.9 L592.3 459.3 L592.2 460.6 L592 462 L591.9 463.3 L591.8 464.7 L591.6 466 L591.5 467.4 L591.3 468.7 L591.2 470.1 L591 471.4 L590.9 472.8 L590.7 474.1 L590.6 475.5 L590.4 476.8 L590.3 478.1 L590.1 479.5 L590 480.8 L589.8 482.2 L589.7 483.5 L589.5 484.9 L589.4 486.2 L589.2 487.6 L589.1 488.9 L588.9 490.3 L588.7 491.6 L588.6 492.9 L588.4 494.3 L588.2 495.6 L588.1 497 L587.9 498.3 L587.7 499.7 L587.6 501 L587.4 502.3 L587.2 503.7 L587 505 L586.8 506.4 L586.7 507.7 L586.5 509 L586.3 510.4 L586.1 511.7 L585.9 513.1 L585.7 514.4 L585.6 515.7 L585.4 517.1 L585.2 518.4 L585 519.8 L584.8 521.1 L584.6 522.4 L584.4 523.8 L584.2 525.1 L584 526.4 L583.7 527.8 L583.5 529.1 L583.3 530.4 L583.1 531.8 L582.9 533.1 L582.7 534.4 L582.4 535.8 L582.2 537.1 L582 538.4 L581.7 539.7 L581.5 541.1 L581.3 542.4 L581 543.7 L580.8 545 L580.5 546.4 L580.2 547.7 L580 549 L579.7 550.3 L579.4 551.7 L579.2 553 L578.9 554.3 L578.6 555.6 L578.3 556.9 L578 558.2 L577.7 559.5 L577.4 560.8 L577.1 562.1 L576.8 563.4 L576.5 564.7 L576.2 566 L575.9 567.3 L575.5 568.6 L575.2 569.9 L574.9 571.2 L574.5 572.5 L574.1 573.8 L573.8 575.1 L573.4 576.3 L573 577.6 L572.6 578.9 L572.3 580.1 L571.9 581.4 L571.4 582.6 L571 583.9 L570.6 585.1 L570.1 586.3 L569.7 587.6 L569.2 588.8 L568.7 590 L568.2 591.1 L567.6 592.3 L567.1 593.4 L566.5 594.5 L565.9 595.6 L565.3 596.7 L564.6 597.7 L564 598.6 L563.3 599.5 L562.5 600.4 L561.8 601.1 L561 601.7 L560.3 602.1 L559.6 602.4 L558.9 602.6 L558.1 602.6 L557.4 602.5 L556.6 602.2 L555.7 601.8 L554.9 601.2 L554 600.5 L553.2 599.7 L552.4 598.8 L551.7 597.9 L550.9 596.9 L550.2 595.9 L549.6 594.8 L548.9 593.7 L548.3 592.6 L547.7 591.4 L547.1 590.3 L546.5 589.1 L546 587.9 L545.4 586.7 L544.9 585.5 L544.4 584.3 L543.9 583.1 L543.5 581.8 L543 580.6 L542.6 579.3 L542.1 578.1 L541.7 576.8 L541.3 575.6 L540.9 574.3 L540.5 573 L540.1 571.7 L539.7 570.5 L539.3 569.2 L538.9 567.9 L538.6 566.6 L538.2 565.3 L537.9 564 L537.5 562.7 L537.2 561.4 L536.9 560.1 L536.5 558.8 L536.2 557.5 L535.9 556.2 L535.6 554.9 L535.3 553.6 L535 552.2 L534.7 550.9 L534.4 549.6 L534.1 548.3 L533.9 547 L533.6 545.7 L533.3 544.3 L533 543 L532.8 541.7 L532.5 540.4 L532.3 539 L532 537.7 L531.8 536.4 L531.5 535.1 L531.3 533.7 L531 532.4 L530.8 531.1 L530.6 529.7 L530.3 528.4 L530.1 527.1 L529.9 525.7 L529.6 524.4 L529.4 523.1 L529.2 521.7 L529 520.4 L528.8 519.1 L528.6 517.7 L528.4 516.4 L528.1 515.1 L527.9 513.7 L527.7 512.4 L527.5 511.1 L527.3 509.7 L527.1 508.4 L527 507 L526.8 505.7 L526.6 504.4 L526.4 503 L526.2 501.7 L526 500.3 L525.8 499 L525.7 497.7 L525.5 496.3 L525.3 495 L525.1 493.6 L525 492.3 L524.8 490.9 L524.6 489.6 L524.4 488.3 L524.3 486.9 L524.1 485.6 L524 484.2 L523.8 482.9 L523.6 481.5 L523.5 480.2 L523.3 478.8 L523.2 477.5 L523 476.2 L522.8 474.8 L522.7 473.5 L522.5 472.1 L522.4 470.8 L522.2 469.4 L522.1 468.1 L521.9 466.7 L521.8 465.4 L521.6 464 L521.5 462.7 L521.4 461.3 L521.2 460 L521.1 458.6 L520.9 457.3 L520.8 456 L520.7 454.6 L520.5 453.3 L520.4 451.9 L520.2 450.6 L520.1 449.2 L520 447.9 L519.8 446.5 L519.7 445.2 L519.6 443.8 L519.4 442.5 L519.3 441.1 L519.2 439.8 L519.1 438.4 L518.9 437.1 L518.8 435.7 L518.7 434.4 L518.6 433 L518.4 431.7 L518.3 430.3 L518.2 429 L518.1 427.6 L517.9 426.3 L517.8 424.9 L517.7 423.6 L517.6 422.2 L517.5 420.9 L517.3 419.5 L517.2 418.2 L517.1 416.8 L517 415.5 L516.9 414.1 L516.7 412.8 L516.6 411.4 L516.5 410.1 L516.4 408.7 L516.3 407.4 L516.2 406 L516.1 404.7 L515.9 403.3 L515.8 402 L515.7 400.6 L515.6 399.3 L515.5 397.9 L515.4 396.6 L515.3 395.2 L515.2 393.9 L515.1 392.5 L515 391.2 L514.8 389.8 L514.7 388.5 L514.6 387.1 L514.5 385.8 L514.4 384.4 L514.3 383.1 L514.2 381.7 L514.1 380.4 L514 379 L513.9 377.7 L513.8 376.3 L513.7 375 L513.6 373.6 L513.5 372.2 L513.4 370.9 L513.3 369.5 L513.2 368.2 L513.1 366.8 L513 365.5 L512.9 364.1 L512.8 362.8 L512.7 361.4 L512.6 360.1 L512.5 358.7 L512.4 357.4 L512.3 356 L512.2 354.7 L512.1 353.3 L512 352 L511.9 350.6 L511.8 349.3 L511.7 347.9 L511.6 346.6 L511.5 345.2 L511.4 343.9 L511.3 342.5 L511.2 341.1 L511.1 339.8 L511 338.4 L510.9 337.1 L510.8 335.7 L510.7 334.4 L510.6 333 L510.6 331.7 L510.5 330.3 L510.4 329 L510.3 327.6 L510.2 326.3 L510.1 324.9 L510 323.6 L509.9 322.2 L509.8 320.9 L509.7 319.5 L509.6 318.2 L509.5 316.8 L509.5 315.4 L509.4 314.1 L509.3 312.7 L509.2 311.4 L509.1 310 L509 308.7 L508.9 307.3 L508.8 306 L508.7 304.6 L508.6 303.3 L508.6 301.9 L508.5 300.6 L508.4 299.2 L508.3 297.9 L508.2 296.5 L508.1 295.2 L508 293.8 L507.9 292.4 L507.8 291.1 L507.7 289.7 L507.7 288.4 L507.6 287 L507.5 285.7 L507.4 284.3 L507.3 283 L507.2 281.6 L507.1 280.3 L507 278.9 L506.9 277.6 L506.8 276.2 L506.8 274.9 L506.7 273.5 L506.6 272.2 L506.5 270.8 L506.4 269.4 L506.3 268.1 L506.2 266.7 L506.1 265.4 L506 264 L505.9 262.7 L505.8 261.3 L505.7 260 L505.7 258.6 L505.6 257.3 L505.5 255.9 L505.4 254.6 L505.3 253.2 L505.2 251.9 L505.1 250.5 L505 249.1 L504.9 247.8 L504.8 246.4 L504.7 245.1 L504.6 243.7 L504.5 242.4 L504.4 241 L504.3 239.7 L504.2 238.3 L504.1 237 L504 235.6 L503.9 234.3 L503.8 232.9 L503.7 231.6 L503.6 230.2 L503.5 228.9 L503.4 227.5 L503.3 226.2 L503.2 224.8 L503.1 223.4 L503 222.1 L502.9 220.7 L502.8 219.4 L502.7 218 L502.6 216.7 L502.5 215.3 L502.3 214 L502.2 212.6 L502.1 211.3 L502 209.9 L501.9 208.6 L501.8 207.2 L501.6 205.9 L501.5 204.5 L501.4 203.2 L501.3 201.8 L501.2 200.5 L501 199.1 L500.9 197.7 L500.8 196.4 L500.6 195 L500.5 193.7 L500.3 192.3 L500.2 191 L500 189.6 L499.9 188.3 L499.7 187 L499.5 185.6 L499.4 184.2 L499.2 182.9 L499 181.5 L498.8 180.1 L498.6 178.8 L498.3 177.4 L498 176.1 L497.7 174.8 L497.4 173.6 L497.2 172.1 L496.4 170.2 L494 169.3 L492.1 171 L491.7 172.7 L491.4 174.1 L491.1 175.4 L490.8 176.6 L490.6 178 L490.3 179.3 L490.1 180.7 L489.9 182.1 L489.8 183.5 L489.6 184.8 L489.4 186.2 L489.3 187.5 L489.1 188.9 L489 190.2 L488.8 191.6 L488.7 192.9 L488.5 194.3 L488.4 195.6 L488.2 197 L488.1 198.3 L488 199.7 L487.9 201 L487.7 202.4 L487.6 203.7 L487.5 205.1 L487.4 206.4 L487.3 207.8 L487.2 209.1 L487 210.5 L486.9 211.8 L486.8 213.2 L486.7 214.5 L486.6 215.9 L486.5 217.3 L486.4 218.6 L486.3 220 L486.2 221.3 L486.1 222.7 L486 224 L485.9 225.4 L485.8 226.7 L485.7 228.1 L485.6 229.4 L485.5 230.8 L485.4 232.1 L485.3 233.5 L485.2 234.8 L485.1 236.2 L485 237.5 L484.9 238.9 L484.8 240.3 L484.7 241.6 L484.6 243 L484.5 244.3 L484.4 245.7 L484.3 247 L484.2 248.4 L484.2 249.7 L484.1 251.1 L484 252.4 L483.9 253.8 L483.8 255.1 L483.7 256.5 L483.6 257.8 L483.5 259.2 L483.4 260.6 L483.4 261.9 L483.3 263.3 L483.2 264.6 L483.1 266 L483 267.3 L482.9 268.7 L482.8 270 L482.7 271.4 L482.7 272.7 L482.6 274.1 L482.5 275.4 L482.4 276.8 L482.3 278.1 L482.2 279.5 L482.1 280.9 L482.1 282.2 L482 283.6 L481.9 284.9 L481.8 286.3 L481.7 287.6 L481.6 289 L481.5 290.3 L481.5 291.7 L481.4 293 L481.3 294.4 L481.2 295.7 L481.1 297.1 L481 298.4 L480.9 299.8 L480.9 301.2 L480.8 302.5 L480.7 303.9 L480.6 305.2 L480.5 306.6 L480.4 307.9 L480.3 309.3 L480.3 310.6 L480.2 312 L480.1 313.3 L480 314.7 L479.9 316 L479.8 317.4 L479.7 318.7 L479.7 320.1 L479.6 321.5 L479.5 322.8 L479.4 324.2 L479.3 325.5 L479.2 326.9 L479.1 328.2 L479 329.6 L479 330.9 L478.9 332.3 L478.8 333.6 L478.7 335 L478.6 336.3 L478.5 337.7 L478.4 339 L478.3 340.4 L478.2 341.7 L478.1 343.1 L478.1 344.5 L478 345.8 L477.9 347.2 L477.8 348.5 L477.7 349.9 L477.6 351.2 L477.5 352.6 L477.4 353.9 L477.3 355.3 L477.2 356.6 L477.1 358 L477 359.3 L477 360.7 L476.9 362 L476.8 363.4 L476.7 364.7 L476.6 366.1 L476.5 367.4 L476.4 368.8 L476.3 370.2 L476.2 371.5 L476.1 372.9 L476 374.2 L475.9 375.6 L475.8 376.9 L475.7 378.3 L475.6 379.6 L475.5 381 L475.4 382.3 L475.3 383.7 L475.2 385 L475.1 386.4 L475 387.7 L474.9 389.1 L474.8 390.4 L474.7 391.8 L474.5 393.1 L474.4 394.5 L474.3 395.8 L474.2 397.2 L474.1 398.5 L474 399.9 L473.9 401.2 L473.8 402.6 L473.7 403.9 L473.6 405.3 L473.5 406.6 L473.3 408 L473.2 409.3 L473.1 410.7 L473 412 L472.9 413.4 L472.8 414.7 L472.7 416.1 L472.5 417.4 L472.4 418.8 L472.3 420.1 L472.2 421.5 L472.1 422.8 L472 424.2 L471.8 425.5 L471.7 426.9 L471.6 428.2 L471.5 429.6 L471.4 430.9 L471.2 432.3 L471.1 433.6 L471 435 L470.9 436.3 L470.7 437.7 L470.6 439 L470.5 440.4 L470.4 441.7 L470.2 443.1 L470.1 444.4 L470 445.8 L469.9 447.1 L469.7 448.5 L469.6 449.8 L469.5 451.2 L469.3 452.5 L469.2 453.9 L469 455.2 L468.9 456.6 L468.8 457.9 L468.6 459.3 L468.5 460.6 L468.3 462 L468.2 463.3 L468 464.6 L467.9 466 L467.7 467.3 L467.6 468.7 L467.4 470 L467.3 471.4 L467.1 472.7 L466.9 474.1 L466.8 475.4 L466.6 476.8 L466.5 478.1 L466.3 479.4 L466.1 480.8 L466 482.1 L465.8 483.5 L465.6 484.8 L465.4 486.2 L465.3 487.5 L465.1 488.8 L464.9 490.2 L464.7 491.5 L464.6 492.9 L464.4 494.2 L464.2 495.5 L464 496.9 L463.8 498.2 L463.6 499.6 L463.5 500.9 L463.3 502.2 L463.1 503.6 L462.9 504.9 L462.7 506.2 L462.5 507.6 L462.3 508.9 L462.1 510.3 L461.9 511.6 L461.6 512.9 L461.4 514.3 L461.2 515.6 L461 516.9 L460.8 518.3 L460.5 519.6 L460.3 520.9 L460.1 522.2 L459.8 523.6 L459.6 524.9 L459.4 526.2 L459.1 527.5 L458.9 528.9 L458.6 530.2 L458.3 531.5 L458.1 532.8 L457.8 534.1 L457.5 535.5 L457.2 536.8 L457 538.1 L456.7 539.4 L456.4 540.7 L456.1 542 L455.8 543.3 L455.5 544.6 L455.1 545.9 L454.8 547.2 L454.5 548.5 L454.1 549.8 L453.8 551.1 L453.4 552.4 L453 553.6 L452.7 554.9 L452.3 556.2 L451.9 557.4 L451.5 558.7 L451 559.9 L450.6 561.2 L450.1 562.4 L449.7 563.6 L449.2 564.8 L448.7 566 L448.1 567.1 L447.5 568.2 L447 569.3 L446.3 570.4 L445.7 571.4 L445 572.3 L444.3 573.1 L443.6 573.7 L442.9 574.2 L442.3 574.5 L441.8 574.7 L441.3 574.7 L440.7 574.5 L440 574.1 L439.2 573.6 L438.5 572.8 L437.7 572 L437 571.1 L436.3 570.1 L435.6 569 L435 567.9 L434.3 566.8 L433.8 565.6 L433.2 564.5 L432.7 563.3 L432.1 562.1 L431.6 560.9 L431.2 559.6 L430.7 558.4 L430.2 557.2 L429.8 555.9 L429.4 554.6 L429 553.4 L428.6 552.1 L428.2 550.8 L427.8 549.5 L427.4 548.2 L427.1 547 L426.7 545.7 L426.4 544.4 L426 543.1 L425.7 541.8 L425.4 540.5 L425 539.2 L424.7 537.8 L424.4 536.5 L424.1 535.2 L423.8 533.9 L423.5 532.6 L423.3 531.3 L423 530 L422.7 528.6 L422.4 527.3 L422.2 526 L421.9 524.7 L421.7 523.3 L421.4 522 L421.2 520.7 L420.9 519.4 L420.7 518 L420.4 516.7 L420.2 515.4 L420 514 L419.8 512.7 L419.5 511.4 L419.3 510 L419.1 508.7 L418.9 507.4 L418.7 506 L418.5 504.7 L418.3 503.4 L418 502 L417.8 500.7 L417.6 499.3 L417.5 498 L417.3 496.7 L417.1 495.3 L416.9 494 L416.7 492.6 L416.5 491.3 L416.3 490 L416.1 488.6 L416 487.3 L415.8 485.9 L415.6 484.6 L415.4 483.3 L415.3 481.9 L415.1 480.6 L414.9 479.2 L414.8 477.9 L414.6 476.5 L414.4 475.2 L414.3 473.8 L414.1 472.5 L413.9 471.2 L413.8 469.8 L413.6 468.5 L413.5 467.1 L413.3 465.8 L413.2 464.4 L413 463.1 L412.9 461.7 L412.7 460.4 L412.6 459 L412.4 457.7 L412.3 456.3 L412.1 455 L412 453.7 L411.9 452.3 L411.7 451 L411.6 449.6 L411.4 448.3 L411.3 446.9 L411.2 445.6 L411 444.2 L410.9 442.9 L410.8 441.5 L410.6 440.2 L410.5 438.8 L410.4 437.5 L410.2 436.1 L410.1 434.8 L410 433.4 L409.9 432.1 L409.7 430.7 L409.6 429.4 L409.5 428 L409.4 426.7 L409.2 425.3 L409.1 424 L409 422.6 L408.9 421.3 L408.8 419.9 L408.6 418.6 L408.5 417.2 L408.4 415.9 L408.3 414.5 L408.2 413.2 L408.1 411.8 L408 410.5 L407.8 409.1 L407.7 407.8 L407.6 406.4 L407.5 405.1 L407.4 403.7 L407.3 402.4 L407.2 401 L407.1 399.7 L407 398.3 L406.8 397 L406.7 395.6 L406.6 394.3 L406.5 392.9 L406.4 391.6 L406.3 390.2 L406.2 388.9 L406.1 387.5 L406 386.2 L405.9 384.8 L405.8 383.5 L405.7 382.1 L405.6 380.8 L405.5 379.4 L405.4 378.1 L405.3 376.7 L405.2 375.4 L405.1 374 L405 372.6 L404.9 371.3 L404.8 369.9 L404.7 368.6 L404.6 367.2 L404.5 365.9 L404.4 364.5 L404.3 363.2 L404.2 361.8 L404.1 360.5 L404 359.1 L403.9 357.8 L403.8 356.4 L403.7 355.1 L403.6 353.7 L403.5 352.4 L403.4 351 L403.3 349.7 L403.3 348.3 L403.2 347 L403.1 345.6 L403 344.3 L402.9 342.9 L402.8 341.5 L402.7 340.2 L402.6 338.8 L402.5 337.5 L402.4 336.1 L402.3 334.8 L402.2 333.4 L402.2 332.1 L402.1 330.7 L402 329.4 L401.9 328 L401.8 326.7 L401.7 325.3 L401.6 324 L401.5 322.6 L401.4 321.3 L401.4 319.9 L401.3 318.5 L401.2 317.2 L401.1 315.8 L401 314.5 L400.9 313.1 L400.8 311.8 L400.8 310.4 L400.7 309.1 L400.6 307.7 L400.5 306.4 L400.4 305 L400.3 303.7 L400.2 302.3 L400.2 301 L400.1 299.6 L400 298.3 L399.9 296.9 L399.8 295.5 L399.7 294.2 L399.6 292.8 L399.6 291.5 L399.5 290.1 L399.4 288.8 L399.3 287.4 L399.2 286.1 L399.1 284.7 L399.1 283.4 L399 282 L398.9 280.7 L398.8 279.3 L398.7 278 L398.6 276.6 L398.5 275.2 L398.5 273.9 L398.4 272.5 L398.3 271.2 L398.2 269.8 L398.1 268.5 L398 267.1 L398 265.8 L397.9 264.4 L397.8 263.1 L397.7 261.7 L397.6 260.4 L397.5 259 L397.4 257.7 L397.4 256.3 L397.3 254.9 L397.2 253.6 L397.1 252.2 L397 250.9 L396.9 249.5 L396.8 248.2 L396.8 246.8 L396.7 245.5 L396.6 244.1 L396.5 242.8 L396.4 241.4 L396.3 240.1 L396.2 238.7 L396.1 237.4 L396.1 236 L396 234.6 L395.9 233.3 L395.8 231.9 L395.7 230.6 L395.6 229.2 L395.5 227.9 L395.4 226.5 L395.4 225.2 L395.3 223.8 L395.2 222.5 L395.1 221.1 L395 219.8 L394.9 218.4 L394.8 217 L394.7 215.7 L394.6 214.3 L394.5 213 L394.5 211.6 L394.4 210.3 L394.3 208.9 L394.2 207.6 L394.1 206.2 L394 204.9 L393.9 203.5 L393.8 202.2 L393.7 200.8 L393.6 199.5 L393.5 198.1 L393.4 196.7 L393.3 195.4 L393.2 194 L393.1 192.7 L393 191.3 L392.9 190 L392.8 188.6 L392.7 187.3 L392.6 185.9 L392.5 184.6 L392.3 183.2 L392.2 181.9 L392.1 180.5 L392 179.2 L391.9 177.8 L391.8 176.5 L391.7 175.1 L391.5 173.7 L391.4 172.4 L391.3 171 L391.1 169.7 L391 168.3 L390.8 167 L390.7 165.6 L390.6 164.3 L390.4 162.9 L390.3 161.6 L390.1 160.2 L390 158.9 L389.8 157.5 L389.6 156.1 L389.4 154.8 L389.1 153.4 L388.8 152.1 L388.6 150.8 L388.4 149.5 L388.2 148.1 L387.7 146.4 L386.2 144.8 L383.4 145.4 L382.8 147.4 L382.4 148.9 L382.1 150.2 L381.9 151.4 L381.6 152.7 L381.4 154 L381.2 155.4 L381 156.8 L380.8 158.2 L380.6 159.6 L380.5 160.9 L380.3 162.3 L380.2 163.6 L380 165 L379.9 166.3 L379.7 167.7 L379.6 169 L379.5 170.3 L379.4 171.7 L379.2 173.1 L379.1 174.4 L379 175.8 L378.9 177.1 L378.8 178.5 L378.6 179.8 L378.5 181.2 L378.4 182.5 L378.3 183.9 L378.2 185.2 L378.1 186.6 L378 188 L377.9 189.3 L377.8 190.7 L377.7 192 L377.6 193.4 L377.5 194.7 L377.4 196.1 L377.3 197.4 L377.2 198.8 L377.1 200.1 L377 201.5 L376.9 202.8 L376.8 204.2 L376.7 205.5 L376.6 206.9 L376.5 208.2 L376.4 209.6 L376.3 211 L376.2 212.3 L376.2 213.7 L376.1 215 L376 216.4 L375.9 217.7 L375.8 219.1 L375.7 220.4 L375.6 221.8 L375.5 223.1 L375.4 224.5 L375.4 225.8 L375.3 227.2 L375.2 228.6 L375.1 229.9 L375 231.3 L374.9 232.6 L374.8 234 L374.8 235.3 L374.7 236.7 L374.6 238 L374.5 239.4 L374.4 240.7 L374.3 242.1 L374.3 243.4 L374.2 244.8 L374.1 246.1 L374 247.5 L373.9 248.9 L373.8 250.2 L373.8 251.6 L373.7 252.9 L373.6 254.3 L373.5 255.6 L373.4 257 L373.4 258.3 L373.3 259.7 L373.2 261 L373.1 262.4 L373 263.7 L373 265.1 L372.9 266.5 L372.8 267.8 L372.7 269.2 L372.6 270.5 L372.6 271.9 L372.5 273.2 L372.4 274.6 L372.3 275.9 L372.2 277.3 L372.1 278.6 L372.1 280 L372 281.3 L371.9 282.7 L371.8 284.1 L371.7 285.4 L371.7 286.8 L371.6 288.1 L371.5 289.5 L371.4 290.8 L371.3 292.2 L371.3 293.5 L371.2 294.9 L371.1 296.2 L371 297.6 L370.9 298.9 L370.8 300.3 L370.8 301.6 L370.7 303 L370.6 304.4 L370.5 305.7 L370.4 307.1 L370.4 308.4 L370.3 309.8 L370.2 311.1 L370.1 312.5 L370 313.8 L369.9 315.2 L369.8 316.5 L369.8 317.9 L369.7 319.2 L369.6 320.6 L369.5 321.9 L369.4 323.3 L369.3 324.7 L369.2 326 L369.2 327.4 L369.1 328.7 L369 330.1 L368.9 331.4 L368.8 332.8 L368.7 334.1 L368.6 335.5 L368.5 336.8 L368.4 338.2 L368.4 339.5 L368.3 340.9 L368.2 342.2 L368.1 343.6 L368 344.9 L367.9 346.3 L367.8 347.6 L367.7 349 L367.6 350.4 L367.5 351.7 L367.4 353.1 L367.3 354.4 L367.3 355.8 L367.2 357.1 L367.1 358.5 L367 359.8 L366.9 361.2 L366.8 362.5 L366.7 363.9 L366.6 365.2 L366.5 366.6 L366.4 367.9 L366.3 369.3 L366.2 370.6 L366.1 372 L366 373.3 L365.9 374.7 L365.8 376 L365.7 377.4 L365.6 378.7 L365.5 380.1 L365.4 381.5 L365.3 382.8 L365.2 384.2 L365.1 385.5 L365 386.9 L364.9 388.2 L364.8 389.6 L364.7 390.9 L364.6 392.3 L364.5 393.6 L364.4 395 L364.3 396.3 L364.1 397.7 L364 399 L363.9 400.4 L363.8 401.7 L363.7 403.1 L363.6 404.4 L363.5 405.8 L363.4 407.1 L363.3 408.5 L363.1 409.8 L363 411.2 L362.9 412.5 L362.8 413.9 L362.7 415.2 L362.6 416.6 L362.4 417.9 L362.3 419.3 L362.2 420.6 L362.1 422 L362 423.3 L361.8 424.7 L361.7 426 L361.6 427.4 L361.5 428.7 L361.3 430.1 L361.2 431.4 L361.1 432.8 L361 434.1 L360.8 435.5 L360.7 436.8 L360.6 438.2 L360.4 439.5 L360.3 440.9 L360.2 442.2 L360 443.6 L359.9 444.9 L359.8 446.2 L359.6 447.6 L359.5 448.9 L359.3 450.3 L359.2 451.6 L359.1 453 L358.9 454.3 L358.8 455.7 L358.6 457 L358.5 458.4 L358.3 459.7 L358.2 461.1 L358 462.4 L357.9 463.7 L357.7 465.1 L357.5 466.4 L357.4 467.8 L357.2 469.1 L357.1 470.5 L356.9 471.8 L356.7 473.2 L356.5 474.5 L356.4 475.8 L356.2 477.2 L356 478.5 L355.8 479.9 L355.7 481.2 L355.5 482.5 L355.3 483.9 L355.1 485.2 L354.9 486.6 L354.7 487.9 L354.5 489.2 L354.3 490.6 L354.1 491.9 L353.9 493.2 L353.7 494.6 L353.5 495.9 L353.3 497.3 L353.1 498.6 L352.9 499.9 L352.7 501.3 L352.5 502.6 L352.2 503.9 L352 505.2 L351.8 506.6 L351.5 507.9 L351.3 509.2 L351.1 510.6 L350.8 511.9 L350.6 513.2 L350.3 514.5 L350 515.8 L349.8 517.2 L349.5 518.5 L349.2 519.8 L349 521.1 L348.7 522.4 L348.4 523.7 L348.1 525 L347.8 526.3 L347.5 527.6 L347.1 528.9 L346.8 530.2 L346.5 531.5 L346.1 532.8 L345.8 534.1 L345.4 535.4 L345.1 536.7 L344.7 537.9 L344.3 539.2 L343.9 540.4 L343.4 541.7 L343 542.9 L342.5 544.1 L342 545.3 L341.5 546.5 L341 547.6 L340.4 548.7 L339.8 549.7 L339.2 550.7 L338.5 551.6 L337.8 552.3 L337.2 552.8 L336.7 553.1 L336.2 553.2 L335.4 553.1 L334.8 552.9 L334.1 552.5 L333.3 551.8 L332.6 551 L331.9 550.1 L331.2 549 L330.6 548 L330 546.8 L329.4 545.7 L328.9 544.5 L328.4 543.3 L327.9 542.1 L327.4 540.9 L327 539.6 L326.5 538.4 L326.1 537.1 L325.7 535.8 L325.3 534.5 L324.9 533.3 L324.6 532 L324.2 530.7 L323.9 529.4 L323.5 528.1 L323.2 526.8 L322.9 525.5 L322.6 524.2 L322.3 522.9 L322 521.5 L321.7 520.2 L321.4 518.9 L321.1 517.6 L320.9 516.3 L320.6 515 L320.3 513.6 L320.1 512.3 L319.8 511 L319.6 509.7 L319.4 508.3 L319.1 507 L318.9 505.7 L318.6 504.3 L318.4 503 L318.2 501.7 L318 500.3 L317.8 499 L317.5 497.7 L317.3 496.3 L317.1 495 L316.9 493.7 L316.7 492.3 L316.5 491 L316.3 489.6 L316.1 488.3 L315.9 487 L315.8 485.6 L315.6 484.3 L315.4 482.9 L315.2 481.6 L315 480.3 L314.9 478.9 L314.7 477.6 L314.5 476.2 L314.3 474.9 L314.2 473.6 L314 472.2 L313.8 470.9 L313.7 469.5 L313.5 468.2 L313.3 466.8 L313.2 465.5 L313 464.1 L312.9 462.8 L312.7 461.5 L312.6 460.1 L312.4 458.8 L312.3 457.4 L312.1 456.1 L312 454.7 L311.8 453.4 L311.7 452 L311.5 450.7 L311.4 449.3 L311.3 448 L311.1 446.6 L311 445.3 L310.8 443.9 L310.7 442.6 L310.6 441.2 L310.4 439.9 L310.3 438.6 L310.2 437.2 L310 435.9 L309.9 434.5 L309.8 433.2 L309.7 431.8 L309.5 430.5 L309.4 429.1 L309.3 427.8 L309.2 426.4 L309 425.1 L308.9 423.7 L308.8 422.4 L308.7 421 L308.5 419.7 L308.4 418.3 L308.3 417 L308.2 415.6 L308.1 414.3 L308 412.9 L307.9 411.6 L307.7 410.2 L307.6 408.9 L307.5 407.5 L307.4 406.2 L307.3 404.8 L307.2 403.5 L307.1 402.1 L307 400.8 L306.9 399.4 L306.8 398.1 L306.7 396.7 L306.6 395.4 L306.4 394 L306.3 392.6 L306.2 391.3 L306.1 389.9 L306 388.6 L305.9 387.2 L305.8 385.9 L305.7 384.5 L305.6 383.2 L305.5 381.8 L305.4 380.5 L305.3 379.1 L305.2 377.8 L305.1 376.4 L305 375.1 L304.9 373.7 L304.8 372.4 L304.7 371 L304.6 369.7 L304.6 368.3 L304.5 367 L304.4 365.6 L304.3 364.3 L304.2 362.9 L304.1 361.6 L304 360.2 L303.9 358.8 L303.8 357.5 L303.7 356.1 L303.6 354.8 L303.5 353.4 L303.4 352.1 L303.3 350.7 L303.2 349.4 L303.2 348 L303.1 346.7 L303 345.3 L302.9 344 L302.8 342.6 L302.7 341.3 L302.6 339.9 L302.5 338.6 L302.5 337.2 L302.4 335.9 L302.3 334.5 L302.2 333.1 L302.1 331.8 L302 330.4 L301.9 329.1 L301.9 327.7 L301.8 326.4 L301.7 325 Z" fill="#77ac30" stroke="#77ac30" stroke-width="0.4" stroke-linejoin="round"/>
<path d="M1161 749.5 L2229.3 749.5 L2229.3 753.9 L2223.9 753.9 L2218.6 753.9 L2213.2 753.9 L2207.8 753.9 L2202.5 754 L2197.1 754 L2191.7 754 L2186.3 754 L2181 754 L2175.6 754 L2170.2 754 L2164.9 754 L2159.5 754 L2154.1 754.1 L2148.8 754.1 L2143.4 754.1 L2138 754.1 L2132.7 754.1 L2127.3 754.1 L2121.9 754.1 L2116.6 754.2 L2111.2 754.2 L2105.8 754.2 L2100.4 754.2 L2095.1 754.2 L2089.7 754.2 L2084.3 754.2 L2079 754.3 L2073.6 754.3 L2068.2 754.3 L2062.9 754.3 L2057.5 754.3 L2052.1 754.3 L2046.8 754.3 L2041.4 754.4 L2036 754.4 L2030.6 754.4 L2025.3 754.4 L2019.9 754.4 L2014.5 754.4 L2009.2 754.5 L2003.8 754.5 L1998.4 754.5 L1993.1 754.5 L1987.7 754.5 L1982.3 754.5 L1977 754.6 L1971.6 754.6 L1966.2 754.6 L1960.9 754.6 L1955.5 754.6 L1950.1 754.7 L1944.7 754.7 L1939.4 754.7 L1934 754.7 L1928.6 754.7 L1923.3 754.7 L1917.9 754.8 L1912.5 754.8 L1907.2 754.8 L1901.8 754.8 L1896.4 754.8 L1891.1 754.9 L1885.7 754.9 L1880.3 754.9 L1874.9 754.9 L1869.6 754.9 L1864.2 755 L1858.8 755 L1853.5 755 L1848.1 755 L1842.7 755 L1837.4 755.1 L1832 755.1 L1826.6 755.1 L1821.3 755.1 L1815.9 755.1 L1810.5 755.2 L1805.2 755.2 L1799.8 755.2 L1794.4 755.2 L1789 755.2 L1783.7 755.3 L1778.3 755.3 L1772.9 755.3 L1767.6 755.3 L1762.2 755.3 L1756.8 755.4 L1751.5 755.4 L1746.1 755.4 L1740.7 755.4 L1735.4 755.5 L1730 755.5 L1724.6 755.5 L1719.2 755.5 L1713.9 755.5 L1708.5 755.6 L1703.1 755.6 L1697.8 755.6 L1692.4 755.6 L1687 755.7 L1681.7 755.7 L1676.3 755.7 L1670.9 755.7 L1665.6 755.7 L1660.2 755.8 L1654.8 755.8 L1649.5 755.8 L1644.1 755.8 L1638.7 755.8 L1633.3 755.9 L1628 755.9 L1622.6 755.9 L1617.2 755.9 L1611.9 755.9 L1606.5 756 L1601.1 756 L1595.8 756 L1590.4 756 L1585 756 L1579.7 756.1 L1574.3 756.1 L1568.9 756.1 L1563.5 756.1 L1558.2 756.2 L1552.8 756.2 L1547.4 756.2 L1542.1 756.2 L1536.7 756.3 L1531.3 756.3 L1526 756.3 L1520.6 756.3 L1515.2 756.4 L1509.9 756.4 L1504.5 756.4 L1499.1 756.4 L1493.7 756.5 L1488.4 756.5 L1483 756.5 L1477.6 756.6 L1472.3 756.6 L1466.9 756.6 L1461.5 756.7 L1456.2 756.7 L1450.8 756.7 L1445.4 756.8 L1440.1 756.8 L1434.7 756.8 L1429.3 756.9 L1424 756.9 L1418.6 757 L1413.2 757 L1407.8 757.1 L1402.5 757.1 L1397.1 757.1 L1391.7 757.2 L1386.4 757.2 L1381 757.3 L1375.6 757.3 L1370.3 757.4 L1364.9 757.5 L1359.5 757.6 L1354.2 757.7 L1348.8 757.8 L1343.4 757.9 L1338.1 758 L1332.7 758.1 L1327.3 758.3 L1322 758.4 L1316.6 758.5 L1311.2 758.7 L1305.9 758.8 L1300.5 759 L1295.1 759.1 L1289.8 759.3 L1284.4 759.4 L1279 759.5 L1273.7 759.6 L1268.3 759.7 L1262.9 759.9 L1257.5 760 L1252.2 760.1 L1246.8 760.2 L1241.4 760.4 L1236.1 760.5 L1230.7 760.7 L1225.3 760.9 L1220 761.1 L1214.6 761.3 L1209.3 761.5 L1203.9 761.8 L1198.5 762 L1193.2 762.3 L1187.8 762.5 L1182.4 762.8 L1177.1 763.1 L1171.7 763.4 L1166.4 763.8 L1161 764.1 Z" fill="#77ac30"/>
<path d="M2229.2 752 L2229.3 749.6 L2229.4 747.2 L2229.6 744.9 L2229.7 742.5 L2229.8 740.1 L2229.9 737.7 L2230 735.3 L2230.1 733 L2230.2 730.6 L2230.3 728.2 L2230.4 725.8 L2230.5 723.4 L2230.5 721.1 L2230.6 718.7 L2230.7 716.3 L2230.8 713.9 L2230.9 711.5 L2231 709.1 L2231.1 706.8 L2231.2 704.4 L2231.3 702 L2231.4 699.6 L2231.5 697.2 L2231.6 694.9 L2231.7 692.5 L2231.8 690.1 L2231.9 687.7 L2232.1 685.3 L2232.2 683 L2232.3 680.6 L2232.5 678.2 L2232.6 675.8 L2232.8 673.5 L2232.9 671.1 L2233.1 668.7 L2233.2 666.3 L2233.4 663.9 L2233.6 661.6 L2233.8 659.2 L2233.9 656.8 L2234.1 654.4 L2234.3 652.1 L2234.5 649.7 L2234.7 647.3 L2234.8 644.9 L2235 642.6 L2235.2 640.2 L2235.4 637.8 L2235.6 635.4 L2235.8 633.1 L2235.9 630.7 L2236.1 628.3 L2236.3 625.9 L2236.5 623.5 L2236.7 621.2 L2236.9 618.8 L2237.1 616.4 L2237.3 614 L2237.5 611.7 L2237.7 609.3 L2237.9 606.9 L2238.2 604.6 L2238.4 602.2 L2238.7 599.8 L2238.9 597.5 L2239.2 595.1 L2239.5 592.7 L2239.8 590.4 L2240.1 588 L2240.4 585.6 L2240.7 583.3 L2241.1 580.9 L2241.4 578.6 L2241.7 576.2 L2242.1 573.8 L2242.4 571.5 L2242.8 569.1 L2243.2 566.8 L2243.5 564.4 L2243.9 562 L2244.3 559.7 L2244.7 557.3 L2245.2 555 L2245.6 552.6 L2246.1 550.3 L2246.5 548 L2247.1 545.6 L2247.6 543.3 L2248.2 541 L2248.8 538.8 L2249.4 536.5 L2250.1 534.2 L2250.8 532 L2251.5 529.7 L2252.3 527.5 L2253.2 525.2 L2254 522.9 L2255 520.7 L2256 518.4 L2257.2 516.3 L2258.6 514.4 L2260.3 512.7 L2262.4 511.5 L2264.7 510.8 L2267 511.1 L2269.1 512.2 L2271 513.9 L2272.6 515.8 L2274 517.8 L2275.1 519.9 L2276 522.1 L2276.8 524.4 L2277.5 526.7 L2278.1 529 L2278.8 531.3 L2279.4 533.6 L2280 535.9 L2280.6 538.2 L2281.2 540.5 L2281.8 542.8 L2282.3 545.1 L2282.9 547.4 L2283.4 549.8 L2283.9 552.1 L2284.4 554.4 L2284.8 556.8 L2285.2 559.1 L2285.7 561.4 L2286 563.8 L2286.4 566.2 L2286.8 568.5 L2287.1 570.9 L2287.5 573.2 L2287.8 575.6 L2288.1 578 L2288.4 580.3 L2288.7 582.7 L2289 585.1 L2289.2 587.4 L2289.5 589.8 L2289.8 592.2 L2290.1 594.5 L2290.3 596.9 L2290.6 599.3 L2290.9 601.6 L2291.1 604 L2291.4 606.4 L2291.6 608.8 L2291.9 611.1 L2292.1 613.5 L2292.4 615.9 L2292.6 618.2 L2292.9 620.6 L2293.1 623 L2293.3 625.3 L2293.6 627.7 L2293.8 630.1 L2294 632.5 L2294.3 634.8 L2294.5 637.2 L2294.7 639.6 L2294.9 641.9 L2295.1 644.3 L2295.3 646.7 L2295.5 649.1 L2295.7 651.4 L2295.9 653.8 L2296.1 656.2 L2296.3 658.6 L2296.5 660.9 L2296.7 663.3 L2296.8 665.7 L2297 668.1 L2297.2 670.4 L2297.4 672.8 L2297.6 675.2 L2297.8 677.6 L2297.9 679.9 L2298.1 682.3 L2298.3 684.7 L2298.5 687.1 L2298.6 689.4 L2298.8 691.8 L2299 694.2 L2299.2 696.6 L2299.3 698.9 L2299.5 701.3 L2299.7 703.7 L2299.9 706.1 L2300 708.4 L2300.2 710.8 L2300.4 713.2 L2300.5 715.6 L2300.7 718 L2300.9 720.3 L2301 722.7 L2301.2 725.1 L2301.4 727.5 L2301.5 729.9 L2301.7 732.2 L2301.9 734.6 L2302 737 L2302.2 739.4 L2302.3 741.8 L2302.5 744.2 L2302.7 746.6 L2302.8 748.9 L2303 751.3 L2303.1 753.7 L2303.3 756.1 L2303.4 758.4 L2303.6 760.8 L2303.8 763.2 L2303.9 765.6 L2304.1 767.9 L2304.2 770.3 L2304.4 772.7 L2304.5 775 L2304.7 777.4 L2304.8 779.7 L2305 782.1 L2305.1 784.4 L2305.3 786.8 L2305.5 789.1 L2305.6 791.5 L2305.8 793.8 L2305.9 796.2 L2306.1 798.5 L2306.2 800.9 L2306.4 803.3 L2306.6 805.6 L2306.7 808 L2306.9 810.4 L2307.1 812.8 L2307.2 815.2 L2307.4 817.6 L2307.6 820 L2307.7 822.5 L2307.9 824.9 L2308.1 827.4 L2308.3 829.8 L2308.5 832.3 L2308.6 834.8 L2308.8 837.3 L2309 839.7 L2309.2 842.2 L2309.4 844.7 L2309.5 847.2 L2309.7 849.6 L2309.9 852.1 L2310.1 854.5 L2310.3 856.9 L2310.4 859.3 L2310.6 861.7 L2310.8 864 L2310.9 866.3 L2311.1 868.6 L2311.3 870.9 L2311.4 873.1 L2311.6 875.3 L2311.7 877.4 L2311.8 879.6 L2312 881.6 L2312.1 883.7 L2312.2 885.7 L2312.4 887.8 L2312.5 890 L2312.7 892.2 L2313 894.5 L2313.2 897 L2313.5 899.6 L2313.8 902.4 L2314.2 905.4 L2314.7 908.6 L2315.2 911.8 L2315.7 914.7 L2316.3 916.9 L2316.9 918.2 L2317.5 918.1 L2318.1 916.6 L2318.6 914.3 L2319.2 911.3 L2319.7 908.1 L2320.2 904.9 L2320.5 902 L2320.9 899.2 L2321.2 896.6 L2321.4 894.2 L2321.6 891.9 L2321.8 889.6 L2321.9 887.5 L2322 885.4 L2322.2 883.3 L2322.3 881.3 L2322.4 879.2 L2322.5 877.1 L2322.6 874.9 L2322.8 872.8 L2322.9 870.5 L2323.1 868.3 L2323.2 866 L2323.4 863.6 L2323.6 861.3 L2323.7 858.9 L2323.9 856.5 L2324.1 854.1 L2324.3 851.7 L2324.5 849.2 L2324.6 846.8 L2324.8 844.3 L2325 841.8 L2325.2 839.3 L2325.4 836.9 L2325.6 834.4 L2325.8 831.9 L2326 829.4 L2326.1 827 L2326.3 824.5 L2326.5 822.1 L2326.7 819.7 L2326.8 817.2 L2327 814.8 L2327.2 812.4 L2327.4 810 L2327.5 807.6 L2327.7 805.3 L2327.9 802.9 L2328 800.5 L2328.2 798.2 L2328.4 795.8 L2328.5 793.4 L2328.7 791.1 L2328.8 788.7 L2329 786.4 L2329.2 784 L2329.3 781.7 L2329.5 779.3 L2329.6 777 L2329.8 774.6 L2329.9 772.3 L2330.1 769.9 L2330.3 767.6 L2330.4 765.2 L2330.6 762.8 L2330.8 760.4 L2330.9 758.1 L2331.1 755.7 L2331.2 753.3 L2331.4 750.9 L2331.6 748.6 L2331.7 746.2 L2331.9 743.8 L2332.1 741.4 L2332.2 739 L2332.4 736.6 L2332.6 734.3 L2332.7 731.9 L2332.9 729.5 L2333.1 727.1 L2333.2 724.7 L2333.4 722.3 L2333.5 720 L2333.7 717.6 L2333.9 715.2 L2334 712.8 L2334.2 710.4 L2334.4 708.1 L2334.5 705.7 L2334.7 703.3 L2334.9 700.9 L2335 698.6 L2335.2 696.2 L2335.3 693.8 L2335.5 691.4 L2335.7 689.1 L2335.8 686.7 L2336 684.3 L2336.1 681.9 L2336.3 679.6 L2336.4 677.2 L2336.6 674.8 L2336.8 672.4 L2336.9 670.1 L2337.1 667.7 L2337.2 665.3 L2337.4 662.9 L2337.5 660.6 L2337.7 658.2 L2337.8 655.8 L2338 653.4 L2338.1 651.1 L2338.3 648.7 L2338.4 646.3 L2338.6 643.9 L2338.7 641.5 L2338.9 639.1 L2339 636.8 L2339.2 634.4 L2339.3 632" fill="none" stroke="#77ac30" stroke-width="1.5" stroke-linejoin="round"/>
<path d="M222.45 337 L222.45 960" fill="none" stroke="#d00000" stroke-width="1.4"/>
<path d="M224.8 960 L224.8 953.5 L224.9 947 L224.9 940.5 L224.9 934 L224.9 927.6 L225 921.1 L225 914.6 L225 908.1 L225 901.6 L225.1 895.1 L225.1 888.6 L225.1 882.1 L225.2 875.6 L225.2 869.2 L225.2 862.7 L225.2 856.2 L225.3 849.7 L225.3 843.2 L225.3 836.7 L225.4 830.2 L225.4 823.7 L225.4 817.3 L225.4 810.8 L225.5 804.3 L225.5 797.8 L225.5 791.3 L225.6 784.8 L225.6 778.3 L225.6 771.8 L225.6 765.3 L225.7 758.9 L225.7 752.4 L225.7 745.9 L225.8 739.4 L225.8 732.9 L225.8 726.4 L225.9 719.9 L225.9 713.4 L225.9 706.9 L226 700.5 L226 694 L226.1 687.5 L226.1 681 L226.1 674.5 L226.2 668 L226.2 661.5 L226.3 655 L226.3 648.6 L226.4 642.1 L226.4 635.6 L226.5 629.1 L226.6 622.6 L226.6 616.1 L226.7 609.6 L226.7 603.1 L226.8 596.6 L226.9 590.2 L226.9 583.7 L227 577.2 L227.1 570.7 L227.2 564.2 L227.2 557.7 L227.3 551.2 L227.4 544.7 L227.5 538.3 L227.5 531.8 L227.6 525.3 L227.7 518.8 L227.8 512.3 L227.9 505.8 L228 499.3 L228.1 492.8 L228.2 486.4 L228.3 479.9 L228.4 473.4 L228.6 466.9 L228.7 460.4 L228.8 453.9 L228.9 447.4 L229.1 440.9 L229.2 434.5 L229.3 428 L229.5 421.5 L229.7 415 L229.8 408.5 L230.1 402 L230.3 395.5 L230.6 389.1 L230.8 382.6 L231 376.1 L231.2 369.6 L231.4 363.1 L231.7 356.6 L232 350.2 L232.5 343.7 L233 337.2 L233.8 330.7 L236 324.4 L242 323.4 L301.3 323.4 L301.3 347.8 L243 347.8 L237.5 349.7 L235.5 355.7 L234.5 362 L234.1 368.2 L233.8 374.4 L233.5 380.7 L233.1 386.9 L232.8 393.1 L232.5 399.3 L232.2 405.5 L231.9 411.8 L231.7 418 L231.5 424.2 L231.3 430.5 L231.1 436.7 L231 442.9 L230.8 449.1 L230.6 455.4 L230.5 461.6 L230.3 467.8 L230.2 474.1 L230.1 480.3 L230 486.5 L229.8 492.7 L229.7 499 L229.6 505.2 L229.5 511.4 L229.4 517.7 L229.3 523.9 L229.2 530.1 L229.1 536.3 L229 542.6 L228.9 548.8 L228.9 555 L228.8 561.3 L228.7 567.5 L228.6 573.7 L228.6 580 L228.5 586.2 L228.4 592.4 L228.4 598.6 L228.3 604.9 L228.3 611.1 L228.2 617.3 L228.1 623.6 L228.1 629.8 L228 636 L228 642.3 L227.9 648.5 L227.9 654.7 L227.8 660.9 L227.8 667.2 L227.7 673.4 L227.7 679.6 L227.7 685.9 L227.6 692.1 L227.6 698.3 L227.6 704.6 L227.5 710.8 L227.5 717 L227.4 723.2 L227.4 729.5 L227.4 735.7 L227.4 741.9 L227.3 748.2 L227.3 754.4 L227.3 760.6 L227.2 766.9 L227.2 773.1 L227.2 779.3 L227.2 785.6 L227.1 791.8 L227.1 798 L227.1 804.2 L227 810.5 L227 816.7 L227 822.9 L227 829.2 L226.9 835.4 L226.9 841.6 L226.9 847.9 L226.8 854.1 L226.8 860.3 L226.8 866.5 L226.8 872.8 L226.7 879 L226.7 885.2 L226.7 891.5 L226.7 897.7 L226.6 903.9 L226.6 910.2 L226.6 916.4 L226.6 922.6 L226.5 928.8 L226.5 935.1 L226.5 941.3 L226.4 947.5 L226.4 953.8 L226.4 960 Z" fill="#ff0000"/>
<path d="M301.6 330 L301.6 335.1 L301.6 340.2 L301.6 345.3 L301.6 350.4 L301.6 355.5 L301.6 360.6 L301.7 365.7 L301.7 370.8 L301.7 375.9 L301.7 381 L301.7 386.1 L301.8 391.2 L301.8 396.3 L301.8 401.4 L301.8 406.5 L301.9 411.6 L301.9 416.7 L301.9 421.8 L301.9 426.9 L302 432 L302 437.1 L302 442.2 L302.1 447.3 L302.1 452.4 L302.2 457.5 L302.2 462.6 L302.3 467.7 L302.3 472.8 L302.4 477.9 L302.5 483 L302.5 488.1 L302.6 493.2 L302.7 498.3 L302.7 503.4 L302.8 508.5 L302.9 513.6 L303 518.7 L303 523.8 L303.1 528.9 L303.2 534 L303.3 539.1 L303.4 544.2 L303.4 549.3 L303.5 554.4 L303.6 559.5 L303.7 564.6 L303.8 569.7 L303.9 574.8 L304 579.9 L304.1 585 L304.2 590.1 L304.3 595.2 L304.4 600.3 L304.5 605.4 L304.7 610.5 L304.8 615.6 L304.9 620.7 L305 625.8 L305.1 630.9 L305.2 636 L305.3 641.1 L305.4 646.2 L305.5 651.3 L305.6 656.4 L305.6 661.5 L305.7 666.6 L305.8 671.7 L305.9 676.8 L306.1 681.9 L306.2 687 L306.5 692.1 L306.8 697.1 L307.2 702.2 L307.7 707.3 L308.3 712.4 L309.3 717.4 L311.3 722.1 L314.8 725.5 L320 725.5 L2229.3 725.5 L2229.3 750.8 L320 750.8 L314.5 750.8 L309 749.8 L305.5 745.9 L304.8 740.7 L304.5 735 L304.3 729.6 L304.1 724.1 L303.9 718.6 L303.8 713.2 L303.6 707.7 L303.5 702.2 L303.4 696.7 L303.4 691.3 L303.3 685.8 L303.2 680.3 L303.1 674.8 L303.1 669.4 L303 663.9 L302.9 658.4 L302.9 652.9 L302.8 647.5 L302.7 642 L302.6 636.5 L302.6 631.1 L302.5 625.6 L302.4 620.1 L302.3 614.6 L302.2 609.2 L302.1 603.7 L302 598.2 L301.9 592.7 L301.8 587.3 L301.7 581.8 L301.6 576.3 L301.6 570.8 L301.5 565.4 L301.4 559.9 L301.3 554.4 L301.2 549 L301.2 543.5 L301.1 538 L301 532.5 L300.9 527.1 L300.8 521.6 L300.8 516.1 L300.7 510.6 L300.6 505.2 L300.5 499.7 L300.5 494.2 L300.4 488.7 L300.3 483.3 L300.2 477.8 L300.2 472.3 L300.1 466.8 L300.1 461.4 L300 455.9 L300 450.4 L299.9 445 L299.9 439.5 L299.8 434 L299.8 428.5 L299.8 423.1 L299.8 417.6 L299.8 412.1 L299.8 406.6 L299.8 401.2 L299.8 395.7 L299.7 390.2 L299.7 384.7 L299.7 379.3 L299.7 373.8 L299.7 368.3 L299.7 362.8 L299.7 357.4 L299.7 351.9 L299.7 346.4 L299.7 340.9 L299.7 335.5 L299.7 330 Z" fill="#ff0000"/>
<path d="M2230.5 751 L2230.5 748.4 L2230.5 745.8 L2230.5 743.2 L2230.5 740.6 L2230.5 738 L2230.5 735.4 L2230.5 732.8 L2230.5 730.2 L2230.5 727.6 L2230.5 725 L2230.5 722.4 L2230.5 719.8 L2230.5 717.2 L2230.5 714.6 L2230.5 712 L2230.5 709.4 L2230.5 706.8 L2230.5 704.2 L2230.5 701.6 L2230.5 699 L2230.5 696.4 L2230.5 693.8 L2230.5 691.2 L2230.5 688.6 L2230.5 686 L2230.5 683.4 L2230.5 680.8 L2230.5 678.2 L2230.5 675.7 L2230.5 673.1 L2230.5 670.5 L2230.5 667.9 L2230.5 665.3 L2230.5 662.7 L2230.6 660.1 L2230.6 657.5 L2230.6 654.9 L2230.6 652.3 L2230.6 649.7 L2230.6 647.1 L2230.6 644.5 L2230.6 641.9 L2230.6 639.3 L2230.6 636.7 L2230.6 634.1 L2230.6 631.5 L2230.6 628.9 L2230.6 626.3 L2230.6 623.7 L2230.6 621.1 L2230.6 618.5 L2230.6 615.9 L2230.6 613.3 L2230.6 610.7 L2230.6 608.1 L2230.6 605.5 L2230.6 602.9 L2230.6 600.3 L2230.6 597.7 L2230.7 595.1 L2230.7 592.5 L2230.7 589.9 L2230.7 587.3 L2230.7 584.7 L2230.7 582.1 L2230.7 579.5 L2230.7 576.9 L2230.7 574.3 L2230.7 571.7 L2230.7 569.1 L2230.7 566.5 L2230.7 563.9 L2230.7 561.3 L2230.7 558.7 L2230.7 556.1 L2230.7 553.5 L2230.8 550.9 L2230.8 548.3 L2230.8 545.7 L2230.8 543.1 L2230.8 540.5 L2230.8 538 L2230.8 535.4 L2230.8 532.8 L2230.8 530.2 L2230.8 527.6 L2230.8 525 L2230.8 522.4 L2230.8 519.8 L2230.8 517.2 L2230.9 514.6 L2230.9 512 L2230.9 509.4 L2230.9 506.8 L2230.9 504.2 L2230.9 501.6 L2230.9 499 L2230.9 496.4 L2230.9 493.8 L2230.9 491.2 L2231 488.6 L2231 486 L2231 483.4 L2231 480.8 L2231 478.2 L2231.1 475.6 L2231.1 473 L2231.1 470.4 L2231.2 467.8 L2231.2 465.2 L2231.2 462.6 L2231.3 460 L2231.3 457.4 L2231.4 454.8 L2231.4 452.2 L2231.4 449.6 L2231.5 447 L2231.5 444.4 L2231.6 441.8 L2231.6 439.2 L2231.7 436.6 L2231.7 434 L2231.8 431.4 L2231.8 428.8 L2231.9 426.2 L2231.9 423.6 L2232 421 L2232.1 418.4 L2232.1 415.8 L2232.2 413.3 L2232.2 410.7 L2232.3 408.1 L2232.4 405.5 L2232.4 402.9 L2232.5 400.3 L2232.6 397.7 L2232.7 395.1 L2232.8 392.5 L2232.9 389.9 L2233 387.3 L2233.1 384.7 L2233.3 382.1 L2233.4 379.5 L2233.5 376.9 L2233.7 374.3 L2233.8 371.7 L2234 369.1 L2234.2 366.5 L2234.3 363.9 L2234.6 361.2 L2234.8 358.6 L2235.1 356 L2235.4 353.5 L2235.8 350.9 L2236.2 348.4 L2236.8 345.8 L2237.9 343.1 L2239.2 341 L2241 339.8 L2243.6 338.8 L2246.3 338.4 L2248.8 338.3 L2251.4 338.3 L2254 338.2 L2256.6 338.2 L2259.3 338.2 L2261.9 338.2 L2264.5 338.2 L2267.1 338.2 L2269.7 338.2 L2272.3 338.2 L2274.8 338.2 L2277.4 338.2 L2280 338.2 L2282.6 338.2 L2285.2 338.2 L2287.8 338.2 L2290.4 338.2 L2293 338.2 L2295.6 338.2 L2298.2 338.2 L2300.8 338.2 L2303.4 338.2 L2306 338.2 L2308.6 338.2 L2311.2 338.2 L2313.8 338.2 L2316.4 338.2 L2319 338.2 L2321.6 338.2 L2324.2 338.2 L2326.8 338.2 L2329.4 338.2 L2332 338.2 L2334.6 338.2 L2337.2 338.2 L2339.8 338.2 L2342.4 338.2 L2345 338.2" fill="none" stroke="#ff0000" stroke-width="1.6" stroke-linejoin="round"/>
</g>
<rect x="988" y="55.5" width="585.5" height="405.0" fill="#fff" stroke="#000" stroke-width="1.6"/>
<line x1="994.5" y1="91" x2="1064" y2="91" stroke="#00ffff" stroke-width="2.6"/>
<text x="1067.5" y="111.3" class="lg">ARF-DSOGI-PLL</text>
<line x1="994.5" y1="157.7" x2="1064" y2="157.7" stroke="#0000ff" stroke-width="2.6"/>
<text x="1067.5" y="178" class="lg">DSOGI-PLL-EFI</text>
<line x1="994.5" y1="224.4" x2="1064" y2="224.4" stroke="#edb120" stroke-width="2.6"/>
<text x="1067.5" y="244.7" class="lg">DSOGI-PLL</text>
<line x1="994.5" y1="291.1" x2="1064" y2="291.1" stroke="#00ff00" stroke-width="3.2"/>
<text x="1067.5" y="311.4" class="lg">Simulink PLL</text>
<line x1="994.5" y1="357.8" x2="1064" y2="357.8" stroke="#77ac30" stroke-width="1.3"/>
<text x="1067.5" y="378.1" class="lg">SRF-PLL</text>
<line x1="994.5" y1="424.5" x2="1064" y2="424.5" stroke="#ff0000" stroke-width="1.4"/>
<text x="1067.5" y="444.8" class="lg">DSOGI-PLL with FLL</text>
<text x="222.3" y="1019.8" class="tk" text-anchor="middle">0</text>
<text x="500.4" y="1019.8" class="tk" text-anchor="middle">5</text>
<text x="779.1" y="1019.8" class="tk" text-anchor="middle">10</text>
<text x="1057.8" y="1019.8" class="tk" text-anchor="middle">15</text>
<text x="1336.5" y="1019.8" class="tk" text-anchor="middle">20</text>
<text x="1615.2" y="1019.8" class="tk" text-anchor="middle">25</text>
<text x="1893.9" y="1019.8" class="tk" text-anchor="middle">30</text>
<text x="2172.6" y="1019.8" class="tk" text-anchor="middle">35</text>
<text x="204.7" y="961.5" class="tk" text-anchor="end">59</text>
<text x="204.7" y="661" class="tk" text-anchor="end">59.5</text>
<text x="204.7" y="360.5" class="tk" text-anchor="end">60</text>
<text x="204.7" y="60" class="tk" text-anchor="end">60.5</text>
<text x="1289.5" y="1099.5" class="lb" text-anchor="middle">Time (s)</text>
<text transform="translate(70.7 487.2) rotate(-90)" class="lb" style="font-size:63.7px" text-anchor="middle">Frequency (Hz)</text>
</svg>
</body></html>
